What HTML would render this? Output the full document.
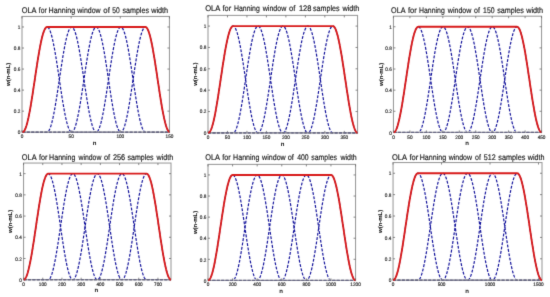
<!DOCTYPE html>
<html><head><meta charset="utf-8"><style>
html,body{margin:0;padding:0;background:#fff;}
svg{display:block;}
text{font-family:"Liberation Sans",Arial,sans-serif;text-rendering:geometricPrecision;}
.ax{fill:#fff;stroke:#999;stroke-width:1.05;}
.tl{font-size:5.1px;fill:#1a1a1a;stroke:#1a1a1a;stroke-width:0.14;}
.ti{font-size:8.1px;fill:#161616;stroke:#161616;stroke-width:0.16;}
.xl{font-size:6px;fill:#111;font-weight:bold;}
.yl{font-size:5.5px;fill:#111;stroke:#111;stroke-width:0.1;font-weight:bold;}
.tk{stroke:#6a6a6a;stroke-width:0.8;fill:none;}
.bo{stroke:#a6a6ae;stroke-width:1.0;}.bl.bz{stroke:#62627e;stroke-width:0.75;}
.bl{fill:none;stroke:#12129a;stroke-width:1.2;stroke-dasharray:2.9 1.5;}
.rd{fill:none;stroke:#d81a1a;stroke-width:1.85;stroke-linejoin:round;}
</style></head><body>
<svg width="550" height="297" viewBox="0 0 550 297">
<defs><filter id="bf" x="0" y="0" width="1" height="1" filterUnits="objectBoundingBox" color-interpolation-filters="sRGB"><feConvolveMatrix order="3" kernelMatrix="1 8 1 8 64 8 1 8 1" edgeMode="duplicate" preserveAlpha="true"/></filter></defs>
<g filter="url(#bf)"><rect width="550" height="297" fill="#fff"/>
<g><rect x="22" y="16.45" width="147.45" height="115.75" class="ax"/><path d="M22 132.2v-2.0M22 16.45v2.0" class="tk"/><path d="M71.15 132.2v-2.0M71.15 16.45v2.0" class="tk"/><path d="M120.3 132.2v-2.0M120.3 16.45v2.0" class="tk"/><path d="M169.45 132.2v-2.0M169.45 16.45v2.0" class="tk"/><path d="M22 132.2h2.0M169.45 132.2h-2.0" class="tk"/><path d="M22 111.15h2.0M169.45 111.15h-2.0" class="tk"/><path d="M22 90.11h2.0M169.45 90.11h-2.0" class="tk"/><path d="M22 69.06h2.0M169.45 69.06h-2.0" class="tk"/><path d="M22 48.02h2.0M169.45 48.02h-2.0" class="tk"/><path d="M22 26.97h2.0M169.45 26.97h-2.0" class="tk"/><clipPath id="c0a"><rect x="22" y="14.45" width="147.45" height="116.55"/></clipPath><clipPath id="c0b"><rect x="22" y="131" width="147.45" height="3"/></clipPath><clipPath id="c0r"><rect x="22" y="13.45" width="147.45" height="121.75"/></clipPath><line x1="22" y1="132.2" x2="169.45" y2="132.2" class="bo"/><g clip-path="url(#c0b)"><polyline points="22.49,132.2 23.47,131.79 24.46,130.55 25.44,128.51 26.42,125.69 27.41,122.15 28.39,117.94 29.37,113.12 30.36,107.78 31.34,101.99 32.32,95.84 33.3,89.45 34.29,82.89 35.27,76.28 36.25,69.73 37.24,63.33 38.22,57.18 39.2,51.39 40.19,46.05 41.17,41.23 42.15,37.02 43.13,33.48 44.12,30.67 45.1,28.63 46.08,27.39 47.07,26.97 48.05,27.39 49.03,28.63 50.02,30.67 51,33.48 51.98,37.02 52.96,41.23 53.95,46.05 54.93,51.39 55.91,57.18 56.9,63.33 57.88,69.73 58.86,76.28 59.85,82.89 60.83,89.45 61.81,95.84 62.79,101.99 63.78,107.78 64.76,113.12 65.74,117.94 66.73,122.15 67.71,125.69 68.69,128.51 69.68,130.55 70.66,131.79 71.64,132.2 169.94,132.2" class="bl bz"/><polyline points="22.49,132.2 47.07,132.2 48.05,131.79 49.03,130.55 50.02,128.51 51,125.69 51.98,122.15 52.96,117.94 53.95,113.12 54.93,107.78 55.91,101.99 56.9,95.84 57.88,89.45 58.86,82.89 59.85,76.28 60.83,69.73 61.81,63.33 62.79,57.18 63.78,51.39 64.76,46.05 65.74,41.23 66.73,37.02 67.71,33.48 68.69,30.67 69.68,28.63 70.66,27.39 71.64,26.97 72.62,27.39 73.61,28.63 74.59,30.67 75.57,33.48 76.56,37.02 77.54,41.23 78.52,46.05 79.51,51.39 80.49,57.18 81.47,63.33 82.45,69.73 83.44,76.28 84.42,82.89 85.4,89.45 86.39,95.84 87.37,101.99 88.35,107.78 89.34,113.12 90.32,117.94 91.3,122.15 92.28,125.69 93.27,128.51 94.25,130.55 95.23,131.79 96.22,132.2 169.94,132.2" class="bl bz"/><polyline points="22.49,132.2 71.64,132.2 72.62,131.79 73.61,130.55 74.59,128.51 75.57,125.69 76.56,122.15 77.54,117.94 78.52,113.12 79.51,107.78 80.49,101.99 81.47,95.84 82.45,89.45 83.44,82.89 84.42,76.28 85.4,69.73 86.39,63.33 87.37,57.18 88.35,51.39 89.34,46.05 90.32,41.23 91.3,37.02 92.28,33.48 93.27,30.67 94.25,28.63 95.23,27.39 96.22,26.97 97.2,27.39 98.18,28.63 99.17,30.67 100.15,33.48 101.13,37.02 102.11,41.23 103.1,46.05 104.08,51.39 105.06,57.18 106.05,63.33 107.03,69.73 108.01,76.28 109,82.89 109.98,89.45 110.96,95.84 111.94,101.99 112.93,107.78 113.91,113.12 114.89,117.94 115.88,122.15 116.86,125.69 117.84,128.51 118.83,130.55 119.81,131.79 120.79,132.2 169.94,132.2" class="bl bz"/><polyline points="22.49,132.2 96.22,132.2 97.2,131.79 98.18,130.55 99.17,128.51 100.15,125.69 101.13,122.15 102.11,117.94 103.1,113.12 104.08,107.78 105.06,101.99 106.05,95.84 107.03,89.45 108.01,82.89 109,76.28 109.98,69.73 110.96,63.33 111.94,57.18 112.93,51.39 113.91,46.05 114.89,41.23 115.88,37.02 116.86,33.48 117.84,30.67 118.83,28.63 119.81,27.39 120.79,26.97 121.77,27.39 122.76,28.63 123.74,30.67 124.72,33.48 125.71,37.02 126.69,41.23 127.67,46.05 128.66,51.39 129.64,57.18 130.62,63.33 131.6,69.73 132.59,76.28 133.57,82.89 134.55,89.45 135.54,95.84 136.52,101.99 137.5,107.78 138.49,113.12 139.47,117.94 140.45,122.15 141.43,125.69 142.42,128.51 143.4,130.55 144.38,131.79 145.37,132.2 169.94,132.2" class="bl bz"/><polyline points="22.49,132.2 120.79,132.2 121.77,131.79 122.76,130.55 123.74,128.51 124.72,125.69 125.71,122.15 126.69,117.94 127.67,113.12 128.66,107.78 129.64,101.99 130.62,95.84 131.6,89.45 132.59,82.89 133.57,76.28 134.55,69.73 135.54,63.33 136.52,57.18 137.5,51.39 138.49,46.05 139.47,41.23 140.45,37.02 141.43,33.48 142.42,30.67 143.4,28.63 144.38,27.39 145.37,26.97 146.35,27.39 147.33,28.63 148.32,30.67 149.3,33.48 150.28,37.02 151.26,41.23 152.25,46.05 153.23,51.39 154.21,57.18 155.2,63.33 156.18,69.73 157.16,76.28 158.15,82.89 159.13,89.45 160.11,95.84 161.09,101.99 162.08,107.78 163.06,113.12 164.04,117.94 165.03,122.15 166.01,125.69 166.99,128.51 167.98,130.55 168.96,131.79 169.94,132.2" class="bl bz"/></g><g clip-path="url(#c0a)"><polyline points="22.49,132.2 23.47,131.79 24.46,130.55 25.44,128.51 26.42,125.69 27.41,122.15 28.39,117.94 29.37,113.12 30.36,107.78 31.34,101.99 32.32,95.84 33.3,89.45 34.29,82.89 35.27,76.28 36.25,69.73 37.24,63.33 38.22,57.18 39.2,51.39 40.19,46.05 41.17,41.23 42.15,37.02 43.13,33.48 44.12,30.67 45.1,28.63 46.08,27.39 47.07,26.97 48.05,27.39 49.03,28.63 50.02,30.67 51,33.48 51.98,37.02 52.96,41.23 53.95,46.05 54.93,51.39 55.91,57.18 56.9,63.33 57.88,69.73 58.86,76.28 59.85,82.89 60.83,89.45 61.81,95.84 62.79,101.99 63.78,107.78 64.76,113.12 65.74,117.94 66.73,122.15 67.71,125.69 68.69,128.51 69.68,130.55 70.66,131.79 71.64,132.2 169.94,132.2" class="bl"/><polyline points="22.49,132.2 47.07,132.2 48.05,131.79 49.03,130.55 50.02,128.51 51,125.69 51.98,122.15 52.96,117.94 53.95,113.12 54.93,107.78 55.91,101.99 56.9,95.84 57.88,89.45 58.86,82.89 59.85,76.28 60.83,69.73 61.81,63.33 62.79,57.18 63.78,51.39 64.76,46.05 65.74,41.23 66.73,37.02 67.71,33.48 68.69,30.67 69.68,28.63 70.66,27.39 71.64,26.97 72.62,27.39 73.61,28.63 74.59,30.67 75.57,33.48 76.56,37.02 77.54,41.23 78.52,46.05 79.51,51.39 80.49,57.18 81.47,63.33 82.45,69.73 83.44,76.28 84.42,82.89 85.4,89.45 86.39,95.84 87.37,101.99 88.35,107.78 89.34,113.12 90.32,117.94 91.3,122.15 92.28,125.69 93.27,128.51 94.25,130.55 95.23,131.79 96.22,132.2 169.94,132.2" class="bl"/><polyline points="22.49,132.2 71.64,132.2 72.62,131.79 73.61,130.55 74.59,128.51 75.57,125.69 76.56,122.15 77.54,117.94 78.52,113.12 79.51,107.78 80.49,101.99 81.47,95.84 82.45,89.45 83.44,82.89 84.42,76.28 85.4,69.73 86.39,63.33 87.37,57.18 88.35,51.39 89.34,46.05 90.32,41.23 91.3,37.02 92.28,33.48 93.27,30.67 94.25,28.63 95.23,27.39 96.22,26.97 97.2,27.39 98.18,28.63 99.17,30.67 100.15,33.48 101.13,37.02 102.11,41.23 103.1,46.05 104.08,51.39 105.06,57.18 106.05,63.33 107.03,69.73 108.01,76.28 109,82.89 109.98,89.45 110.96,95.84 111.94,101.99 112.93,107.78 113.91,113.12 114.89,117.94 115.88,122.15 116.86,125.69 117.84,128.51 118.83,130.55 119.81,131.79 120.79,132.2 169.94,132.2" class="bl"/><polyline points="22.49,132.2 96.22,132.2 97.2,131.79 98.18,130.55 99.17,128.51 100.15,125.69 101.13,122.15 102.11,117.94 103.1,113.12 104.08,107.78 105.06,101.99 106.05,95.84 107.03,89.45 108.01,82.89 109,76.28 109.98,69.73 110.96,63.33 111.94,57.18 112.93,51.39 113.91,46.05 114.89,41.23 115.88,37.02 116.86,33.48 117.84,30.67 118.83,28.63 119.81,27.39 120.79,26.97 121.77,27.39 122.76,28.63 123.74,30.67 124.72,33.48 125.71,37.02 126.69,41.23 127.67,46.05 128.66,51.39 129.64,57.18 130.62,63.33 131.6,69.73 132.59,76.28 133.57,82.89 134.55,89.45 135.54,95.84 136.52,101.99 137.5,107.78 138.49,113.12 139.47,117.94 140.45,122.15 141.43,125.69 142.42,128.51 143.4,130.55 144.38,131.79 145.37,132.2 169.94,132.2" class="bl"/><polyline points="22.49,132.2 120.79,132.2 121.77,131.79 122.76,130.55 123.74,128.51 124.72,125.69 125.71,122.15 126.69,117.94 127.67,113.12 128.66,107.78 129.64,101.99 130.62,95.84 131.6,89.45 132.59,82.89 133.57,76.28 134.55,69.73 135.54,63.33 136.52,57.18 137.5,51.39 138.49,46.05 139.47,41.23 140.45,37.02 141.43,33.48 142.42,30.67 143.4,28.63 144.38,27.39 145.37,26.97 146.35,27.39 147.33,28.63 148.32,30.67 149.3,33.48 150.28,37.02 151.26,41.23 152.25,46.05 153.23,51.39 154.21,57.18 155.2,63.33 156.18,69.73 157.16,76.28 158.15,82.89 159.13,89.45 160.11,95.84 161.09,101.99 162.08,107.78 163.06,113.12 164.04,117.94 165.03,122.15 166.01,125.69 166.99,128.51 167.98,130.55 168.96,131.79 169.94,132.2" class="bl"/></g><polyline points="22.49,132.2 23.47,131.79 24.46,130.55 25.44,128.51 26.42,125.69 27.41,122.15 28.39,117.94 29.37,113.12 30.36,107.78 31.34,101.99 32.32,95.84 33.3,89.45 34.29,82.89 35.27,76.28 36.25,69.73 37.24,63.33 38.22,57.18 39.2,51.39 40.19,46.05 41.17,41.23 42.15,37.02 43.13,33.48 44.12,30.67 45.1,28.63 46.08,27.39 47.07,26.97 48.05,26.97 49.03,26.97 50.02,26.97 51,26.97 51.98,26.97 52.96,26.97 53.95,26.97 54.93,26.97 55.91,26.97 56.9,26.97 57.88,26.97 58.86,26.97 59.85,26.97 60.83,26.97 61.81,26.97 62.79,26.97 63.78,26.97 64.76,26.97 65.74,26.97 66.73,26.97 67.71,26.97 68.69,26.97 69.68,26.97 70.66,26.97 71.64,26.97 72.62,26.97 73.61,26.97 74.59,26.97 75.57,26.97 76.56,26.97 77.54,26.97 78.52,26.97 79.51,26.97 80.49,26.97 81.47,26.97 82.45,26.97 83.44,26.97 84.42,26.97 85.4,26.97 86.39,26.97 87.37,26.97 88.35,26.97 89.34,26.97 90.32,26.97 91.3,26.97 92.28,26.97 93.27,26.97 94.25,26.97 95.23,26.97 96.22,26.97 97.2,26.97 98.18,26.97 99.17,26.97 100.15,26.97 101.13,26.97 102.11,26.97 103.1,26.97 104.08,26.97 105.06,26.97 106.05,26.97 107.03,26.97 108.01,26.97 109,26.97 109.98,26.97 110.96,26.97 111.94,26.97 112.93,26.97 113.91,26.97 114.89,26.97 115.88,26.97 116.86,26.97 117.84,26.97 118.83,26.97 119.81,26.97 120.79,26.97 121.77,26.97 122.76,26.97 123.74,26.97 124.72,26.97 125.71,26.97 126.69,26.97 127.67,26.97 128.66,26.97 129.64,26.97 130.62,26.97 131.6,26.97 132.59,26.97 133.57,26.97 134.55,26.97 135.54,26.97 136.52,26.97 137.5,26.97 138.49,26.97 139.47,26.97 140.45,26.97 141.43,26.97 142.42,26.97 143.4,26.97 144.38,26.97 145.37,26.97 146.35,27.39 147.33,28.63 148.32,30.67 149.3,33.48 150.28,37.02 151.26,41.23 152.25,46.05 153.23,51.39 154.21,57.18 155.2,63.33 156.18,69.73 157.16,76.28 158.15,82.89 159.13,89.45 160.11,95.84 161.09,101.99 162.08,107.78 163.06,113.12 164.04,117.94 165.03,122.15 166.01,125.69 166.99,128.51 167.98,130.55 168.96,131.79 169.94,132.2" class="rd" clip-path="url(#c0r)"/></g><g><rect x="208" y="15.4" width="149.55" height="117.5" class="ax"/><path d="M208 132.9v-2.0M208 15.4v2.0" class="tk"/><path d="M227.47 132.9v-2.0M227.47 15.4v2.0" class="tk"/><path d="M246.95 132.9v-2.0M246.95 15.4v2.0" class="tk"/><path d="M266.42 132.9v-2.0M266.42 15.4v2.0" class="tk"/><path d="M285.89 132.9v-2.0M285.89 15.4v2.0" class="tk"/><path d="M305.36 132.9v-2.0M305.36 15.4v2.0" class="tk"/><path d="M324.84 132.9v-2.0M324.84 15.4v2.0" class="tk"/><path d="M344.31 132.9v-2.0M344.31 15.4v2.0" class="tk"/><path d="M208 132.9h2.0M357.55 132.9h-2.0" class="tk"/><path d="M208 111.54h2.0M357.55 111.54h-2.0" class="tk"/><path d="M208 90.17h2.0M357.55 90.17h-2.0" class="tk"/><path d="M208 68.81h2.0M357.55 68.81h-2.0" class="tk"/><path d="M208 47.45h2.0M357.55 47.45h-2.0" class="tk"/><path d="M208 26.08h2.0M357.55 26.08h-2.0" class="tk"/><clipPath id="c1a"><rect x="208" y="13.4" width="149.55" height="118.6"/></clipPath><clipPath id="c1b"><rect x="208" y="132" width="149.55" height="3"/></clipPath><clipPath id="c1r"><rect x="208" y="12.4" width="149.55" height="123.5"/></clipPath><line x1="208" y1="132.9" x2="357.55" y2="132.9" class="bo"/><g clip-path="url(#c1b)"><polyline points="208.19,132.9 208.58,132.84 208.97,132.64 209.36,132.32 209.75,131.87 210.14,131.3 210.53,130.6 210.92,129.78 211.31,128.83 211.7,127.77 212.09,126.59 212.48,125.3 212.87,123.9 213.26,122.39 213.65,120.78 214.04,119.06 214.43,117.26 214.82,115.36 215.2,113.37 215.59,111.31 215.98,109.16 216.37,106.95 216.76,104.67 217.15,102.33 217.54,99.93 217.93,97.48 218.32,94.99 218.71,92.47 219.1,89.91 219.49,87.33 219.88,84.73 220.27,82.11 220.66,79.49 221.05,76.87 221.44,74.26 221.83,71.65 222.22,69.07 222.6,66.51 222.99,63.99 223.38,61.5 223.77,59.05 224.16,56.66 224.55,54.31 224.94,52.03 225.33,49.82 225.72,47.68 226.11,45.61 226.5,43.62 226.89,41.72 227.28,39.92 227.67,38.21 228.06,36.59 228.45,35.08 228.84,33.68 229.23,32.39 229.61,31.21 230,30.15 230.39,29.2 230.78,28.38 231.17,27.68 231.56,27.11 231.95,26.66 232.34,26.34 232.73,26.15 233.12,26.08 233.51,26.15 233.9,26.34 234.29,26.66 234.68,27.11 235.07,27.68 235.46,28.38 235.85,29.2 236.24,30.15 236.62,31.21 237.01,32.39 237.4,33.68 237.79,35.08 238.18,36.59 238.57,38.21 238.96,39.92 239.35,41.72 239.74,43.62 240.13,45.61 240.52,47.68 240.91,49.82 241.3,52.03 241.69,54.31 242.08,56.66 242.47,59.05 242.86,61.5 243.25,63.99 243.63,66.51 244.02,69.07 244.41,71.65 244.8,74.26 245.19,76.87 245.58,79.49 245.97,82.11 246.36,84.73 246.75,87.33 247.14,89.91 247.53,92.47 247.92,94.99 248.31,97.48 248.7,99.93 249.09,102.33 249.48,104.67 249.87,106.95 250.26,109.16 250.65,111.31 251.03,113.37 251.42,115.36 251.81,117.26 252.2,119.06 252.59,120.78 252.98,122.39 253.37,123.9 253.76,125.3 254.15,126.59 254.54,127.77 254.93,128.83 255.32,129.78 255.71,130.6 256.1,131.3 256.49,131.87 256.88,132.32 257.27,132.64 257.66,132.84 258.04,132.9 357.74,132.9" class="bl bz"/><polyline points="208.19,132.9 233.12,132.9 233.51,132.84 233.9,132.64 234.29,132.32 234.68,131.87 235.07,131.3 235.46,130.6 235.85,129.78 236.24,128.83 236.62,127.77 237.01,126.59 237.4,125.3 237.79,123.9 238.18,122.39 238.57,120.78 238.96,119.06 239.35,117.26 239.74,115.36 240.13,113.37 240.52,111.31 240.91,109.16 241.3,106.95 241.69,104.67 242.08,102.33 242.47,99.93 242.86,97.48 243.25,94.99 243.63,92.47 244.02,89.91 244.41,87.33 244.8,84.73 245.19,82.11 245.58,79.49 245.97,76.87 246.36,74.26 246.75,71.65 247.14,69.07 247.53,66.51 247.92,63.99 248.31,61.5 248.7,59.05 249.09,56.66 249.48,54.31 249.87,52.03 250.26,49.82 250.65,47.68 251.03,45.61 251.42,43.62 251.81,41.72 252.2,39.92 252.59,38.21 252.98,36.59 253.37,35.08 253.76,33.68 254.15,32.39 254.54,31.21 254.93,30.15 255.32,29.2 255.71,28.38 256.1,27.68 256.49,27.11 256.88,26.66 257.27,26.34 257.66,26.15 258.04,26.08 258.43,26.15 258.82,26.34 259.21,26.66 259.6,27.11 259.99,27.68 260.38,28.38 260.77,29.2 261.16,30.15 261.55,31.21 261.94,32.39 262.33,33.68 262.72,35.08 263.11,36.59 263.5,38.21 263.89,39.92 264.28,41.72 264.67,43.62 265.05,45.61 265.44,47.68 265.83,49.82 266.22,52.03 266.61,54.31 267,56.66 267.39,59.05 267.78,61.5 268.17,63.99 268.56,66.51 268.95,69.07 269.34,71.65 269.73,74.26 270.12,76.87 270.51,79.49 270.9,82.11 271.29,84.73 271.68,87.33 272.07,89.91 272.45,92.47 272.84,94.99 273.23,97.48 273.62,99.93 274.01,102.33 274.4,104.67 274.79,106.95 275.18,109.16 275.57,111.31 275.96,113.37 276.35,115.36 276.74,117.26 277.13,119.06 277.52,120.78 277.91,122.39 278.3,123.9 278.69,125.3 279.08,126.59 279.46,127.77 279.85,128.83 280.24,129.78 280.63,130.6 281.02,131.3 281.41,131.87 281.8,132.32 282.19,132.64 282.58,132.84 282.97,132.9 357.74,132.9" class="bl bz"/><polyline points="208.19,132.9 258.04,132.9 258.43,132.84 258.82,132.64 259.21,132.32 259.6,131.87 259.99,131.3 260.38,130.6 260.77,129.78 261.16,128.83 261.55,127.77 261.94,126.59 262.33,125.3 262.72,123.9 263.11,122.39 263.5,120.78 263.89,119.06 264.28,117.26 264.67,115.36 265.05,113.37 265.44,111.31 265.83,109.16 266.22,106.95 266.61,104.67 267,102.33 267.39,99.93 267.78,97.48 268.17,94.99 268.56,92.47 268.95,89.91 269.34,87.33 269.73,84.73 270.12,82.11 270.51,79.49 270.9,76.87 271.29,74.26 271.68,71.65 272.07,69.07 272.45,66.51 272.84,63.99 273.23,61.5 273.62,59.05 274.01,56.66 274.4,54.31 274.79,52.03 275.18,49.82 275.57,47.68 275.96,45.61 276.35,43.62 276.74,41.72 277.13,39.92 277.52,38.21 277.91,36.59 278.3,35.08 278.69,33.68 279.08,32.39 279.46,31.21 279.85,30.15 280.24,29.2 280.63,28.38 281.02,27.68 281.41,27.11 281.8,26.66 282.19,26.34 282.58,26.15 282.97,26.08 283.36,26.15 283.75,26.34 284.14,26.66 284.53,27.11 284.92,27.68 285.31,28.38 285.7,29.2 286.09,30.15 286.47,31.21 286.86,32.39 287.25,33.68 287.64,35.08 288.03,36.59 288.42,38.21 288.81,39.92 289.2,41.72 289.59,43.62 289.98,45.61 290.37,47.68 290.76,49.82 291.15,52.03 291.54,54.31 291.93,56.66 292.32,59.05 292.71,61.5 293.1,63.99 293.48,66.51 293.87,69.07 294.26,71.65 294.65,74.26 295.04,76.87 295.43,79.49 295.82,82.11 296.21,84.73 296.6,87.33 296.99,89.91 297.38,92.47 297.77,94.99 298.16,97.48 298.55,99.93 298.94,102.33 299.33,104.67 299.72,106.95 300.11,109.16 300.5,111.31 300.88,113.37 301.27,115.36 301.66,117.26 302.05,119.06 302.44,120.78 302.83,122.39 303.22,123.9 303.61,125.3 304,126.59 304.39,127.77 304.78,128.83 305.17,129.78 305.56,130.6 305.95,131.3 306.34,131.87 306.73,132.32 307.12,132.64 307.51,132.84 307.89,132.9 357.74,132.9" class="bl bz"/><polyline points="208.19,132.9 282.97,132.9 283.36,132.84 283.75,132.64 284.14,132.32 284.53,131.87 284.92,131.3 285.31,130.6 285.7,129.78 286.09,128.83 286.47,127.77 286.86,126.59 287.25,125.3 287.64,123.9 288.03,122.39 288.42,120.78 288.81,119.06 289.2,117.26 289.59,115.36 289.98,113.37 290.37,111.31 290.76,109.16 291.15,106.95 291.54,104.67 291.93,102.33 292.32,99.93 292.71,97.48 293.1,94.99 293.48,92.47 293.87,89.91 294.26,87.33 294.65,84.73 295.04,82.11 295.43,79.49 295.82,76.87 296.21,74.26 296.6,71.65 296.99,69.07 297.38,66.51 297.77,63.99 298.16,61.5 298.55,59.05 298.94,56.66 299.33,54.31 299.72,52.03 300.11,49.82 300.5,47.68 300.88,45.61 301.27,43.62 301.66,41.72 302.05,39.92 302.44,38.21 302.83,36.59 303.22,35.08 303.61,33.68 304,32.39 304.39,31.21 304.78,30.15 305.17,29.2 305.56,28.38 305.95,27.68 306.34,27.11 306.73,26.66 307.12,26.34 307.51,26.15 307.89,26.08 308.28,26.15 308.67,26.34 309.06,26.66 309.45,27.11 309.84,27.68 310.23,28.38 310.62,29.2 311.01,30.15 311.4,31.21 311.79,32.39 312.18,33.68 312.57,35.08 312.96,36.59 313.35,38.21 313.74,39.92 314.13,41.72 314.52,43.62 314.9,45.61 315.29,47.68 315.68,49.82 316.07,52.03 316.46,54.31 316.85,56.66 317.24,59.05 317.63,61.5 318.02,63.99 318.41,66.51 318.8,69.07 319.19,71.65 319.58,74.26 319.97,76.87 320.36,79.49 320.75,82.11 321.14,84.73 321.53,87.33 321.92,89.91 322.3,92.47 322.69,94.99 323.08,97.48 323.47,99.93 323.86,102.33 324.25,104.67 324.64,106.95 325.03,109.16 325.42,111.31 325.81,113.37 326.2,115.36 326.59,117.26 326.98,119.06 327.37,120.78 327.76,122.39 328.15,123.9 328.54,125.3 328.93,126.59 329.31,127.77 329.7,128.83 330.09,129.78 330.48,130.6 330.87,131.3 331.26,131.87 331.65,132.32 332.04,132.64 332.43,132.84 332.82,132.9 357.74,132.9" class="bl bz"/><polyline points="208.19,132.9 307.89,132.9 308.28,132.84 308.67,132.64 309.06,132.32 309.45,131.87 309.84,131.3 310.23,130.6 310.62,129.78 311.01,128.83 311.4,127.77 311.79,126.59 312.18,125.3 312.57,123.9 312.96,122.39 313.35,120.78 313.74,119.06 314.13,117.26 314.52,115.36 314.9,113.37 315.29,111.31 315.68,109.16 316.07,106.95 316.46,104.67 316.85,102.33 317.24,99.93 317.63,97.48 318.02,94.99 318.41,92.47 318.8,89.91 319.19,87.33 319.58,84.73 319.97,82.11 320.36,79.49 320.75,76.87 321.14,74.26 321.53,71.65 321.92,69.07 322.3,66.51 322.69,63.99 323.08,61.5 323.47,59.05 323.86,56.66 324.25,54.31 324.64,52.03 325.03,49.82 325.42,47.68 325.81,45.61 326.2,43.62 326.59,41.72 326.98,39.92 327.37,38.21 327.76,36.59 328.15,35.08 328.54,33.68 328.93,32.39 329.31,31.21 329.7,30.15 330.09,29.2 330.48,28.38 330.87,27.68 331.26,27.11 331.65,26.66 332.04,26.34 332.43,26.15 332.82,26.08 333.21,26.15 333.6,26.34 333.99,26.66 334.38,27.11 334.77,27.68 335.16,28.38 335.55,29.2 335.94,30.15 336.32,31.21 336.71,32.39 337.1,33.68 337.49,35.08 337.88,36.59 338.27,38.21 338.66,39.92 339.05,41.72 339.44,43.62 339.83,45.61 340.22,47.68 340.61,49.82 341,52.03 341.39,54.31 341.78,56.66 342.17,59.05 342.56,61.5 342.95,63.99 343.33,66.51 343.72,69.07 344.11,71.65 344.5,74.26 344.89,76.87 345.28,79.49 345.67,82.11 346.06,84.73 346.45,87.33 346.84,89.91 347.23,92.47 347.62,94.99 348.01,97.48 348.4,99.93 348.79,102.33 349.18,104.67 349.57,106.95 349.96,109.16 350.35,111.31 350.73,113.37 351.12,115.36 351.51,117.26 351.9,119.06 352.29,120.78 352.68,122.39 353.07,123.9 353.46,125.3 353.85,126.59 354.24,127.77 354.63,128.83 355.02,129.78 355.41,130.6 355.8,131.3 356.19,131.87 356.58,132.32 356.97,132.64 357.36,132.84 357.74,132.9" class="bl bz"/></g><g clip-path="url(#c1a)"><polyline points="208.19,132.9 208.58,132.84 208.97,132.64 209.36,132.32 209.75,131.87 210.14,131.3 210.53,130.6 210.92,129.78 211.31,128.83 211.7,127.77 212.09,126.59 212.48,125.3 212.87,123.9 213.26,122.39 213.65,120.78 214.04,119.06 214.43,117.26 214.82,115.36 215.2,113.37 215.59,111.31 215.98,109.16 216.37,106.95 216.76,104.67 217.15,102.33 217.54,99.93 217.93,97.48 218.32,94.99 218.71,92.47 219.1,89.91 219.49,87.33 219.88,84.73 220.27,82.11 220.66,79.49 221.05,76.87 221.44,74.26 221.83,71.65 222.22,69.07 222.6,66.51 222.99,63.99 223.38,61.5 223.77,59.05 224.16,56.66 224.55,54.31 224.94,52.03 225.33,49.82 225.72,47.68 226.11,45.61 226.5,43.62 226.89,41.72 227.28,39.92 227.67,38.21 228.06,36.59 228.45,35.08 228.84,33.68 229.23,32.39 229.61,31.21 230,30.15 230.39,29.2 230.78,28.38 231.17,27.68 231.56,27.11 231.95,26.66 232.34,26.34 232.73,26.15 233.12,26.08 233.51,26.15 233.9,26.34 234.29,26.66 234.68,27.11 235.07,27.68 235.46,28.38 235.85,29.2 236.24,30.15 236.62,31.21 237.01,32.39 237.4,33.68 237.79,35.08 238.18,36.59 238.57,38.21 238.96,39.92 239.35,41.72 239.74,43.62 240.13,45.61 240.52,47.68 240.91,49.82 241.3,52.03 241.69,54.31 242.08,56.66 242.47,59.05 242.86,61.5 243.25,63.99 243.63,66.51 244.02,69.07 244.41,71.65 244.8,74.26 245.19,76.87 245.58,79.49 245.97,82.11 246.36,84.73 246.75,87.33 247.14,89.91 247.53,92.47 247.92,94.99 248.31,97.48 248.7,99.93 249.09,102.33 249.48,104.67 249.87,106.95 250.26,109.16 250.65,111.31 251.03,113.37 251.42,115.36 251.81,117.26 252.2,119.06 252.59,120.78 252.98,122.39 253.37,123.9 253.76,125.3 254.15,126.59 254.54,127.77 254.93,128.83 255.32,129.78 255.71,130.6 256.1,131.3 256.49,131.87 256.88,132.32 257.27,132.64 257.66,132.84 258.04,132.9 357.74,132.9" class="bl"/><polyline points="208.19,132.9 233.12,132.9 233.51,132.84 233.9,132.64 234.29,132.32 234.68,131.87 235.07,131.3 235.46,130.6 235.85,129.78 236.24,128.83 236.62,127.77 237.01,126.59 237.4,125.3 237.79,123.9 238.18,122.39 238.57,120.78 238.96,119.06 239.35,117.26 239.74,115.36 240.13,113.37 240.52,111.31 240.91,109.16 241.3,106.95 241.69,104.67 242.08,102.33 242.47,99.93 242.86,97.48 243.25,94.99 243.63,92.47 244.02,89.91 244.41,87.33 244.8,84.73 245.19,82.11 245.58,79.49 245.97,76.87 246.36,74.26 246.75,71.65 247.14,69.07 247.53,66.51 247.92,63.99 248.31,61.5 248.7,59.05 249.09,56.66 249.48,54.31 249.87,52.03 250.26,49.82 250.65,47.68 251.03,45.61 251.42,43.62 251.81,41.72 252.2,39.92 252.59,38.21 252.98,36.59 253.37,35.08 253.76,33.68 254.15,32.39 254.54,31.21 254.93,30.15 255.32,29.2 255.71,28.38 256.1,27.68 256.49,27.11 256.88,26.66 257.27,26.34 257.66,26.15 258.04,26.08 258.43,26.15 258.82,26.34 259.21,26.66 259.6,27.11 259.99,27.68 260.38,28.38 260.77,29.2 261.16,30.15 261.55,31.21 261.94,32.39 262.33,33.68 262.72,35.08 263.11,36.59 263.5,38.21 263.89,39.92 264.28,41.72 264.67,43.62 265.05,45.61 265.44,47.68 265.83,49.82 266.22,52.03 266.61,54.31 267,56.66 267.39,59.05 267.78,61.5 268.17,63.99 268.56,66.51 268.95,69.07 269.34,71.65 269.73,74.26 270.12,76.87 270.51,79.49 270.9,82.11 271.29,84.73 271.68,87.33 272.07,89.91 272.45,92.47 272.84,94.99 273.23,97.48 273.62,99.93 274.01,102.33 274.4,104.67 274.79,106.95 275.18,109.16 275.57,111.31 275.96,113.37 276.35,115.36 276.74,117.26 277.13,119.06 277.52,120.78 277.91,122.39 278.3,123.9 278.69,125.3 279.08,126.59 279.46,127.77 279.85,128.83 280.24,129.78 280.63,130.6 281.02,131.3 281.41,131.87 281.8,132.32 282.19,132.64 282.58,132.84 282.97,132.9 357.74,132.9" class="bl"/><polyline points="208.19,132.9 258.04,132.9 258.43,132.84 258.82,132.64 259.21,132.32 259.6,131.87 259.99,131.3 260.38,130.6 260.77,129.78 261.16,128.83 261.55,127.77 261.94,126.59 262.33,125.3 262.72,123.9 263.11,122.39 263.5,120.78 263.89,119.06 264.28,117.26 264.67,115.36 265.05,113.37 265.44,111.31 265.83,109.16 266.22,106.95 266.61,104.67 267,102.33 267.39,99.93 267.78,97.48 268.17,94.99 268.56,92.47 268.95,89.91 269.34,87.33 269.73,84.73 270.12,82.11 270.51,79.49 270.9,76.87 271.29,74.26 271.68,71.65 272.07,69.07 272.45,66.51 272.84,63.99 273.23,61.5 273.62,59.05 274.01,56.66 274.4,54.31 274.79,52.03 275.18,49.82 275.57,47.68 275.96,45.61 276.35,43.62 276.74,41.72 277.13,39.92 277.52,38.21 277.91,36.59 278.3,35.08 278.69,33.68 279.08,32.39 279.46,31.21 279.85,30.15 280.24,29.2 280.63,28.38 281.02,27.68 281.41,27.11 281.8,26.66 282.19,26.34 282.58,26.15 282.97,26.08 283.36,26.15 283.75,26.34 284.14,26.66 284.53,27.11 284.92,27.68 285.31,28.38 285.7,29.2 286.09,30.15 286.47,31.21 286.86,32.39 287.25,33.68 287.64,35.08 288.03,36.59 288.42,38.21 288.81,39.92 289.2,41.72 289.59,43.62 289.98,45.61 290.37,47.68 290.76,49.82 291.15,52.03 291.54,54.31 291.93,56.66 292.32,59.05 292.71,61.5 293.1,63.99 293.48,66.51 293.87,69.07 294.26,71.65 294.65,74.26 295.04,76.87 295.43,79.49 295.82,82.11 296.21,84.73 296.6,87.33 296.99,89.91 297.38,92.47 297.77,94.99 298.16,97.48 298.55,99.93 298.94,102.33 299.33,104.67 299.72,106.95 300.11,109.16 300.5,111.31 300.88,113.37 301.27,115.36 301.66,117.26 302.05,119.06 302.44,120.78 302.83,122.39 303.22,123.9 303.61,125.3 304,126.59 304.39,127.77 304.78,128.83 305.17,129.78 305.56,130.6 305.95,131.3 306.34,131.87 306.73,132.32 307.12,132.64 307.51,132.84 307.89,132.9 357.74,132.9" class="bl"/><polyline points="208.19,132.9 282.97,132.9 283.36,132.84 283.75,132.64 284.14,132.32 284.53,131.87 284.92,131.3 285.31,130.6 285.7,129.78 286.09,128.83 286.47,127.77 286.86,126.59 287.25,125.3 287.64,123.9 288.03,122.39 288.42,120.78 288.81,119.06 289.2,117.26 289.59,115.36 289.98,113.37 290.37,111.31 290.76,109.16 291.15,106.95 291.54,104.67 291.93,102.33 292.32,99.93 292.71,97.48 293.1,94.99 293.48,92.47 293.87,89.91 294.26,87.33 294.65,84.73 295.04,82.11 295.43,79.49 295.82,76.87 296.21,74.26 296.6,71.65 296.99,69.07 297.38,66.51 297.77,63.99 298.16,61.5 298.55,59.05 298.94,56.66 299.33,54.31 299.72,52.03 300.11,49.82 300.5,47.68 300.88,45.61 301.27,43.62 301.66,41.72 302.05,39.92 302.44,38.21 302.83,36.59 303.22,35.08 303.61,33.68 304,32.39 304.39,31.21 304.78,30.15 305.17,29.2 305.56,28.38 305.95,27.68 306.34,27.11 306.73,26.66 307.12,26.34 307.51,26.15 307.89,26.08 308.28,26.15 308.67,26.34 309.06,26.66 309.45,27.11 309.84,27.68 310.23,28.38 310.62,29.2 311.01,30.15 311.4,31.21 311.79,32.39 312.18,33.68 312.57,35.08 312.96,36.59 313.35,38.21 313.74,39.92 314.13,41.72 314.52,43.62 314.9,45.61 315.29,47.68 315.68,49.82 316.07,52.03 316.46,54.31 316.85,56.66 317.24,59.05 317.63,61.5 318.02,63.99 318.41,66.51 318.8,69.07 319.19,71.65 319.58,74.26 319.97,76.87 320.36,79.49 320.75,82.11 321.14,84.73 321.53,87.33 321.92,89.91 322.3,92.47 322.69,94.99 323.08,97.48 323.47,99.93 323.86,102.33 324.25,104.67 324.64,106.95 325.03,109.16 325.42,111.31 325.81,113.37 326.2,115.36 326.59,117.26 326.98,119.06 327.37,120.78 327.76,122.39 328.15,123.9 328.54,125.3 328.93,126.59 329.31,127.77 329.7,128.83 330.09,129.78 330.48,130.6 330.87,131.3 331.26,131.87 331.65,132.32 332.04,132.64 332.43,132.84 332.82,132.9 357.74,132.9" class="bl"/><polyline points="208.19,132.9 307.89,132.9 308.28,132.84 308.67,132.64 309.06,132.32 309.45,131.87 309.84,131.3 310.23,130.6 310.62,129.78 311.01,128.83 311.4,127.77 311.79,126.59 312.18,125.3 312.57,123.9 312.96,122.39 313.35,120.78 313.74,119.06 314.13,117.26 314.52,115.36 314.9,113.37 315.29,111.31 315.68,109.16 316.07,106.95 316.46,104.67 316.85,102.33 317.24,99.93 317.63,97.48 318.02,94.99 318.41,92.47 318.8,89.91 319.19,87.33 319.58,84.73 319.97,82.11 320.36,79.49 320.75,76.87 321.14,74.26 321.53,71.65 321.92,69.07 322.3,66.51 322.69,63.99 323.08,61.5 323.47,59.05 323.86,56.66 324.25,54.31 324.64,52.03 325.03,49.82 325.42,47.68 325.81,45.61 326.2,43.62 326.59,41.72 326.98,39.92 327.37,38.21 327.76,36.59 328.15,35.08 328.54,33.68 328.93,32.39 329.31,31.21 329.7,30.15 330.09,29.2 330.48,28.38 330.87,27.68 331.26,27.11 331.65,26.66 332.04,26.34 332.43,26.15 332.82,26.08 333.21,26.15 333.6,26.34 333.99,26.66 334.38,27.11 334.77,27.68 335.16,28.38 335.55,29.2 335.94,30.15 336.32,31.21 336.71,32.39 337.1,33.68 337.49,35.08 337.88,36.59 338.27,38.21 338.66,39.92 339.05,41.72 339.44,43.62 339.83,45.61 340.22,47.68 340.61,49.82 341,52.03 341.39,54.31 341.78,56.66 342.17,59.05 342.56,61.5 342.95,63.99 343.33,66.51 343.72,69.07 344.11,71.65 344.5,74.26 344.89,76.87 345.28,79.49 345.67,82.11 346.06,84.73 346.45,87.33 346.84,89.91 347.23,92.47 347.62,94.99 348.01,97.48 348.4,99.93 348.79,102.33 349.18,104.67 349.57,106.95 349.96,109.16 350.35,111.31 350.73,113.37 351.12,115.36 351.51,117.26 351.9,119.06 352.29,120.78 352.68,122.39 353.07,123.9 353.46,125.3 353.85,126.59 354.24,127.77 354.63,128.83 355.02,129.78 355.41,130.6 355.8,131.3 356.19,131.87 356.58,132.32 356.97,132.64 357.36,132.84 357.74,132.9" class="bl"/></g><polyline points="208.19,132.9 208.58,132.84 208.97,132.64 209.36,132.32 209.75,131.87 210.14,131.3 210.53,130.6 210.92,129.78 211.31,128.83 211.7,127.77 212.09,126.59 212.48,125.3 212.87,123.9 213.26,122.39 213.65,120.78 214.04,119.06 214.43,117.26 214.82,115.36 215.2,113.37 215.59,111.31 215.98,109.16 216.37,106.95 216.76,104.67 217.15,102.33 217.54,99.93 217.93,97.48 218.32,94.99 218.71,92.47 219.1,89.91 219.49,87.33 219.88,84.73 220.27,82.11 220.66,79.49 221.05,76.87 221.44,74.26 221.83,71.65 222.22,69.07 222.6,66.51 222.99,63.99 223.38,61.5 223.77,59.05 224.16,56.66 224.55,54.31 224.94,52.03 225.33,49.82 225.72,47.68 226.11,45.61 226.5,43.62 226.89,41.72 227.28,39.92 227.67,38.21 228.06,36.59 228.45,35.08 228.84,33.68 229.23,32.39 229.61,31.21 230,30.15 230.39,29.2 230.78,28.38 231.17,27.68 231.56,27.11 231.95,26.66 232.34,26.34 232.73,26.15 233.12,26.08 233.51,26.08 233.9,26.08 234.29,26.08 234.68,26.08 235.07,26.08 235.46,26.08 235.85,26.08 236.24,26.08 236.62,26.08 237.01,26.08 237.4,26.08 237.79,26.08 238.18,26.08 238.57,26.08 238.96,26.08 239.35,26.08 239.74,26.08 240.13,26.08 240.52,26.08 240.91,26.08 241.3,26.08 241.69,26.08 242.08,26.08 242.47,26.08 242.86,26.08 243.25,26.08 243.63,26.08 244.02,26.08 244.41,26.08 244.8,26.08 245.19,26.08 245.58,26.08 245.97,26.08 246.36,26.08 246.75,26.08 247.14,26.08 247.53,26.08 247.92,26.08 248.31,26.08 248.7,26.08 249.09,26.08 249.48,26.08 249.87,26.08 250.26,26.08 250.65,26.08 251.03,26.08 251.42,26.08 251.81,26.08 252.2,26.08 252.59,26.08 252.98,26.08 253.37,26.08 253.76,26.08 254.15,26.08 254.54,26.08 254.93,26.08 255.32,26.08 255.71,26.08 256.1,26.08 256.49,26.08 256.88,26.08 257.27,26.08 257.66,26.08 258.04,26.08 258.43,26.08 258.82,26.08 259.21,26.08 259.6,26.08 259.99,26.08 260.38,26.08 260.77,26.08 261.16,26.08 261.55,26.08 261.94,26.08 262.33,26.08 262.72,26.08 263.11,26.08 263.5,26.08 263.89,26.08 264.28,26.08 264.67,26.08 265.05,26.08 265.44,26.08 265.83,26.08 266.22,26.08 266.61,26.08 267,26.08 267.39,26.08 267.78,26.08 268.17,26.08 268.56,26.08 268.95,26.08 269.34,26.08 269.73,26.08 270.12,26.08 270.51,26.08 270.9,26.08 271.29,26.08 271.68,26.08 272.07,26.08 272.45,26.08 272.84,26.08 273.23,26.08 273.62,26.08 274.01,26.08 274.4,26.08 274.79,26.08 275.18,26.08 275.57,26.08 275.96,26.08 276.35,26.08 276.74,26.08 277.13,26.08 277.52,26.08 277.91,26.08 278.3,26.08 278.69,26.08 279.08,26.08 279.46,26.08 279.85,26.08 280.24,26.08 280.63,26.08 281.02,26.08 281.41,26.08 281.8,26.08 282.19,26.08 282.58,26.08 282.97,26.08 283.36,26.08 283.75,26.08 284.14,26.08 284.53,26.08 284.92,26.08 285.31,26.08 285.7,26.08 286.09,26.08 286.47,26.08 286.86,26.08 287.25,26.08 287.64,26.08 288.03,26.08 288.42,26.08 288.81,26.08 289.2,26.08 289.59,26.08 289.98,26.08 290.37,26.08 290.76,26.08 291.15,26.08 291.54,26.08 291.93,26.08 292.32,26.08 292.71,26.08 293.1,26.08 293.48,26.08 293.87,26.08 294.26,26.08 294.65,26.08 295.04,26.08 295.43,26.08 295.82,26.08 296.21,26.08 296.6,26.08 296.99,26.08 297.38,26.08 297.77,26.08 298.16,26.08 298.55,26.08 298.94,26.08 299.33,26.08 299.72,26.08 300.11,26.08 300.5,26.08 300.88,26.08 301.27,26.08 301.66,26.08 302.05,26.08 302.44,26.08 302.83,26.08 303.22,26.08 303.61,26.08 304,26.08 304.39,26.08 304.78,26.08 305.17,26.08 305.56,26.08 305.95,26.08 306.34,26.08 306.73,26.08 307.12,26.08 307.51,26.08 307.89,26.08 308.28,26.08 308.67,26.08 309.06,26.08 309.45,26.08 309.84,26.08 310.23,26.08 310.62,26.08 311.01,26.08 311.4,26.08 311.79,26.08 312.18,26.08 312.57,26.08 312.96,26.08 313.35,26.08 313.74,26.08 314.13,26.08 314.52,26.08 314.9,26.08 315.29,26.08 315.68,26.08 316.07,26.08 316.46,26.08 316.85,26.08 317.24,26.08 317.63,26.08 318.02,26.08 318.41,26.08 318.8,26.08 319.19,26.08 319.58,26.08 319.97,26.08 320.36,26.08 320.75,26.08 321.14,26.08 321.53,26.08 321.92,26.08 322.3,26.08 322.69,26.08 323.08,26.08 323.47,26.08 323.86,26.08 324.25,26.08 324.64,26.08 325.03,26.08 325.42,26.08 325.81,26.08 326.2,26.08 326.59,26.08 326.98,26.08 327.37,26.08 327.76,26.08 328.15,26.08 328.54,26.08 328.93,26.08 329.31,26.08 329.7,26.08 330.09,26.08 330.48,26.08 330.87,26.08 331.26,26.08 331.65,26.08 332.04,26.08 332.43,26.08 332.82,26.08 333.21,26.15 333.6,26.34 333.99,26.66 334.38,27.11 334.77,27.68 335.16,28.38 335.55,29.2 335.94,30.15 336.32,31.21 336.71,32.39 337.1,33.68 337.49,35.08 337.88,36.59 338.27,38.21 338.66,39.92 339.05,41.72 339.44,43.62 339.83,45.61 340.22,47.68 340.61,49.82 341,52.03 341.39,54.31 341.78,56.66 342.17,59.05 342.56,61.5 342.95,63.99 343.33,66.51 343.72,69.07 344.11,71.65 344.5,74.26 344.89,76.87 345.28,79.49 345.67,82.11 346.06,84.73 346.45,87.33 346.84,89.91 347.23,92.47 347.62,94.99 348.01,97.48 348.4,99.93 348.79,102.33 349.18,104.67 349.57,106.95 349.96,109.16 350.35,111.31 350.73,113.37 351.12,115.36 351.51,117.26 351.9,119.06 352.29,120.78 352.68,122.39 353.07,123.9 353.46,125.3 353.85,126.59 354.24,127.77 354.63,128.83 355.02,129.78 355.41,130.6 355.8,131.3 356.19,131.87 356.58,132.32 356.97,132.64 357.36,132.84 357.74,132.9" class="rd" clip-path="url(#c1r)"/></g><g><rect x="393.45" y="16.2" width="148.1" height="116.2" class="ax"/><path d="M393.45 132.4v-2.0M393.45 16.2v2.0" class="tk"/><path d="M409.91 132.4v-2.0M409.91 16.2v2.0" class="tk"/><path d="M426.36 132.4v-2.0M426.36 16.2v2.0" class="tk"/><path d="M442.82 132.4v-2.0M442.82 16.2v2.0" class="tk"/><path d="M459.27 132.4v-2.0M459.27 16.2v2.0" class="tk"/><path d="M475.73 132.4v-2.0M475.73 16.2v2.0" class="tk"/><path d="M492.18 132.4v-2.0M492.18 16.2v2.0" class="tk"/><path d="M508.64 132.4v-2.0M508.64 16.2v2.0" class="tk"/><path d="M525.09 132.4v-2.0M525.09 16.2v2.0" class="tk"/><path d="M541.55 132.4v-2.0M541.55 16.2v2.0" class="tk"/><path d="M393.45 132.4h2.0M541.55 132.4h-2.0" class="tk"/><path d="M393.45 111.27h2.0M541.55 111.27h-2.0" class="tk"/><path d="M393.45 90.15h2.0M541.55 90.15h-2.0" class="tk"/><path d="M393.45 69.02h2.0M541.55 69.02h-2.0" class="tk"/><path d="M393.45 47.89h2.0M541.55 47.89h-2.0" class="tk"/><path d="M393.45 26.76h2.0M541.55 26.76h-2.0" class="tk"/><clipPath id="c2a"><rect x="393.45" y="14.2" width="148.1" height="116.8"/></clipPath><clipPath id="c2b"><rect x="393.45" y="131" width="148.1" height="3"/></clipPath><clipPath id="c2r"><rect x="393.45" y="13.2" width="148.1" height="122.2"/></clipPath><line x1="393.45" y1="132.4" x2="541.55" y2="132.4" class="bo"/><g clip-path="url(#c2b)"><polyline points="393.61,132.4 393.94,132.35 394.27,132.21 394.6,131.98 394.93,131.66 395.26,131.25 395.59,130.74 395.92,130.15 396.25,129.46 396.58,128.69 396.91,127.83 397.23,126.89 397.56,125.87 397.89,124.76 398.22,123.58 398.55,122.31 398.88,120.98 399.21,119.56 399.54,118.08 399.87,116.54 400.2,114.92 400.53,113.25 400.85,111.52 401.18,109.73 401.51,107.88 401.84,105.99 402.17,104.05 402.5,102.07 402.83,100.05 403.16,97.99 403.49,95.9 403.82,93.79 404.15,91.64 404.48,89.48 404.8,87.3 405.13,85.1 405.46,82.9 405.79,80.69 406.12,78.48 406.45,76.27 406.78,74.06 407.11,71.87 407.44,69.68 407.77,67.52 408.1,65.38 408.42,63.26 408.75,61.17 409.08,59.11 409.41,57.09 409.74,55.11 410.07,53.17 410.4,51.28 410.73,49.44 411.06,47.65 411.39,45.91 411.72,44.24 412.04,42.63 412.37,41.08 412.7,39.6 413.03,38.19 413.36,36.85 413.69,35.59 414.02,34.4 414.35,33.3 414.68,32.27 415.01,31.33 415.34,30.47 415.66,29.7 415.99,29.02 416.32,28.42 416.65,27.92 416.98,27.5 417.31,27.18 417.64,26.95 417.97,26.81 418.3,26.76 418.63,26.81 418.96,26.95 419.29,27.18 419.61,27.5 419.94,27.92 420.27,28.42 420.6,29.02 420.93,29.7 421.26,30.47 421.59,31.33 421.92,32.27 422.25,33.3 422.58,34.4 422.91,35.59 423.23,36.85 423.56,38.19 423.89,39.6 424.22,41.08 424.55,42.63 424.88,44.24 425.21,45.91 425.54,47.65 425.87,49.44 426.2,51.28 426.53,53.17 426.85,55.11 427.18,57.09 427.51,59.11 427.84,61.17 428.17,63.26 428.5,65.38 428.83,67.52 429.16,69.68 429.49,71.87 429.82,74.06 430.15,76.27 430.47,78.48 430.8,80.69 431.13,82.9 431.46,85.1 431.79,87.3 432.12,89.48 432.45,91.64 432.78,93.79 433.11,95.9 433.44,97.99 433.77,100.05 434.1,102.07 434.42,104.05 434.75,105.99 435.08,107.88 435.41,109.73 435.74,111.52 436.07,113.25 436.4,114.92 436.73,116.54 437.06,118.08 437.39,119.56 437.72,120.98 438.04,122.31 438.37,123.58 438.7,124.76 439.03,125.87 439.36,126.89 439.69,127.83 440.02,128.69 440.35,129.46 440.68,130.15 441.01,130.74 441.34,131.25 441.66,131.66 441.99,131.98 442.32,132.21 442.65,132.35 442.98,132.4 541.71,132.4" class="bl bz"/><polyline points="393.61,132.4 418.3,132.4 418.63,132.35 418.96,132.21 419.29,131.98 419.61,131.66 419.94,131.25 420.27,130.74 420.6,130.15 420.93,129.46 421.26,128.69 421.59,127.83 421.92,126.89 422.25,125.87 422.58,124.76 422.91,123.58 423.23,122.31 423.56,120.98 423.89,119.56 424.22,118.08 424.55,116.54 424.88,114.92 425.21,113.25 425.54,111.52 425.87,109.73 426.2,107.88 426.53,105.99 426.85,104.05 427.18,102.07 427.51,100.05 427.84,97.99 428.17,95.9 428.5,93.79 428.83,91.64 429.16,89.48 429.49,87.3 429.82,85.1 430.15,82.9 430.47,80.69 430.8,78.48 431.13,76.27 431.46,74.06 431.79,71.87 432.12,69.68 432.45,67.52 432.78,65.38 433.11,63.26 433.44,61.17 433.77,59.11 434.1,57.09 434.42,55.11 434.75,53.17 435.08,51.28 435.41,49.44 435.74,47.65 436.07,45.91 436.4,44.24 436.73,42.63 437.06,41.08 437.39,39.6 437.72,38.19 438.04,36.85 438.37,35.59 438.7,34.4 439.03,33.3 439.36,32.27 439.69,31.33 440.02,30.47 440.35,29.7 440.68,29.02 441.01,28.42 441.34,27.92 441.66,27.5 441.99,27.18 442.32,26.95 442.65,26.81 442.98,26.76 443.31,26.81 443.64,26.95 443.97,27.18 444.3,27.5 444.63,27.92 444.96,28.42 445.28,29.02 445.61,29.7 445.94,30.47 446.27,31.33 446.6,32.27 446.93,33.3 447.26,34.4 447.59,35.59 447.92,36.85 448.25,38.19 448.58,39.6 448.91,41.08 449.23,42.63 449.56,44.24 449.89,45.91 450.22,47.65 450.55,49.44 450.88,51.28 451.21,53.17 451.54,55.11 451.87,57.09 452.2,59.11 452.53,61.17 452.85,63.26 453.18,65.38 453.51,67.52 453.84,69.68 454.17,71.87 454.5,74.06 454.83,76.27 455.16,78.48 455.49,80.69 455.82,82.9 456.15,85.1 456.47,87.3 456.8,89.48 457.13,91.64 457.46,93.79 457.79,95.9 458.12,97.99 458.45,100.05 458.78,102.07 459.11,104.05 459.44,105.99 459.77,107.88 460.09,109.73 460.42,111.52 460.75,113.25 461.08,114.92 461.41,116.54 461.74,118.08 462.07,119.56 462.4,120.98 462.73,122.31 463.06,123.58 463.39,124.76 463.72,125.87 464.04,126.89 464.37,127.83 464.7,128.69 465.03,129.46 465.36,130.15 465.69,130.74 466.02,131.25 466.35,131.66 466.68,131.98 467.01,132.21 467.34,132.35 467.66,132.4 541.71,132.4" class="bl bz"/><polyline points="393.61,132.4 442.98,132.4 443.31,132.35 443.64,132.21 443.97,131.98 444.3,131.66 444.63,131.25 444.96,130.74 445.28,130.15 445.61,129.46 445.94,128.69 446.27,127.83 446.6,126.89 446.93,125.87 447.26,124.76 447.59,123.58 447.92,122.31 448.25,120.98 448.58,119.56 448.91,118.08 449.23,116.54 449.56,114.92 449.89,113.25 450.22,111.52 450.55,109.73 450.88,107.88 451.21,105.99 451.54,104.05 451.87,102.07 452.2,100.05 452.53,97.99 452.85,95.9 453.18,93.79 453.51,91.64 453.84,89.48 454.17,87.3 454.5,85.1 454.83,82.9 455.16,80.69 455.49,78.48 455.82,76.27 456.15,74.06 456.47,71.87 456.8,69.68 457.13,67.52 457.46,65.38 457.79,63.26 458.12,61.17 458.45,59.11 458.78,57.09 459.11,55.11 459.44,53.17 459.77,51.28 460.09,49.44 460.42,47.65 460.75,45.91 461.08,44.24 461.41,42.63 461.74,41.08 462.07,39.6 462.4,38.19 462.73,36.85 463.06,35.59 463.39,34.4 463.72,33.3 464.04,32.27 464.37,31.33 464.7,30.47 465.03,29.7 465.36,29.02 465.69,28.42 466.02,27.92 466.35,27.5 466.68,27.18 467.01,26.95 467.34,26.81 467.66,26.76 467.99,26.81 468.32,26.95 468.65,27.18 468.98,27.5 469.31,27.92 469.64,28.42 469.97,29.02 470.3,29.7 470.63,30.47 470.96,31.33 471.28,32.27 471.61,33.3 471.94,34.4 472.27,35.59 472.6,36.85 472.93,38.19 473.26,39.6 473.59,41.08 473.92,42.63 474.25,44.24 474.58,45.91 474.9,47.65 475.23,49.44 475.56,51.28 475.89,53.17 476.22,55.11 476.55,57.09 476.88,59.11 477.21,61.17 477.54,63.26 477.87,65.38 478.2,67.52 478.53,69.68 478.85,71.87 479.18,74.06 479.51,76.27 479.84,78.48 480.17,80.69 480.5,82.9 480.83,85.1 481.16,87.3 481.49,89.48 481.82,91.64 482.15,93.79 482.47,95.9 482.8,97.99 483.13,100.05 483.46,102.07 483.79,104.05 484.12,105.99 484.45,107.88 484.78,109.73 485.11,111.52 485.44,113.25 485.77,114.92 486.09,116.54 486.42,118.08 486.75,119.56 487.08,120.98 487.41,122.31 487.74,123.58 488.07,124.76 488.4,125.87 488.73,126.89 489.06,127.83 489.39,128.69 489.71,129.46 490.04,130.15 490.37,130.74 490.7,131.25 491.03,131.66 491.36,131.98 491.69,132.21 492.02,132.35 492.35,132.4 541.71,132.4" class="bl bz"/><polyline points="393.61,132.4 467.66,132.4 467.99,132.35 468.32,132.21 468.65,131.98 468.98,131.66 469.31,131.25 469.64,130.74 469.97,130.15 470.3,129.46 470.63,128.69 470.96,127.83 471.28,126.89 471.61,125.87 471.94,124.76 472.27,123.58 472.6,122.31 472.93,120.98 473.26,119.56 473.59,118.08 473.92,116.54 474.25,114.92 474.58,113.25 474.9,111.52 475.23,109.73 475.56,107.88 475.89,105.99 476.22,104.05 476.55,102.07 476.88,100.05 477.21,97.99 477.54,95.9 477.87,93.79 478.2,91.64 478.53,89.48 478.85,87.3 479.18,85.1 479.51,82.9 479.84,80.69 480.17,78.48 480.5,76.27 480.83,74.06 481.16,71.87 481.49,69.68 481.82,67.52 482.15,65.38 482.47,63.26 482.8,61.17 483.13,59.11 483.46,57.09 483.79,55.11 484.12,53.17 484.45,51.28 484.78,49.44 485.11,47.65 485.44,45.91 485.77,44.24 486.09,42.63 486.42,41.08 486.75,39.6 487.08,38.19 487.41,36.85 487.74,35.59 488.07,34.4 488.4,33.3 488.73,32.27 489.06,31.33 489.39,30.47 489.71,29.7 490.04,29.02 490.37,28.42 490.7,27.92 491.03,27.5 491.36,27.18 491.69,26.95 492.02,26.81 492.35,26.76 492.68,26.81 493.01,26.95 493.34,27.18 493.66,27.5 493.99,27.92 494.32,28.42 494.65,29.02 494.98,29.7 495.31,30.47 495.64,31.33 495.97,32.27 496.3,33.3 496.63,34.4 496.96,35.59 497.28,36.85 497.61,38.19 497.94,39.6 498.27,41.08 498.6,42.63 498.93,44.24 499.26,45.91 499.59,47.65 499.92,49.44 500.25,51.28 500.58,53.17 500.9,55.11 501.23,57.09 501.56,59.11 501.89,61.17 502.22,63.26 502.55,65.38 502.88,67.52 503.21,69.68 503.54,71.87 503.87,74.06 504.2,76.27 504.52,78.48 504.85,80.69 505.18,82.9 505.51,85.1 505.84,87.3 506.17,89.48 506.5,91.64 506.83,93.79 507.16,95.9 507.49,97.99 507.82,100.05 508.15,102.07 508.47,104.05 508.8,105.99 509.13,107.88 509.46,109.73 509.79,111.52 510.12,113.25 510.45,114.92 510.78,116.54 511.11,118.08 511.44,119.56 511.77,120.98 512.09,122.31 512.42,123.58 512.75,124.76 513.08,125.87 513.41,126.89 513.74,127.83 514.07,128.69 514.4,129.46 514.73,130.15 515.06,130.74 515.39,131.25 515.71,131.66 516.04,131.98 516.37,132.21 516.7,132.35 517.03,132.4 541.71,132.4" class="bl bz"/><polyline points="393.61,132.4 492.35,132.4 492.68,132.35 493.01,132.21 493.34,131.98 493.66,131.66 493.99,131.25 494.32,130.74 494.65,130.15 494.98,129.46 495.31,128.69 495.64,127.83 495.97,126.89 496.3,125.87 496.63,124.76 496.96,123.58 497.28,122.31 497.61,120.98 497.94,119.56 498.27,118.08 498.6,116.54 498.93,114.92 499.26,113.25 499.59,111.52 499.92,109.73 500.25,107.88 500.58,105.99 500.9,104.05 501.23,102.07 501.56,100.05 501.89,97.99 502.22,95.9 502.55,93.79 502.88,91.64 503.21,89.48 503.54,87.3 503.87,85.1 504.2,82.9 504.52,80.69 504.85,78.48 505.18,76.27 505.51,74.06 505.84,71.87 506.17,69.68 506.5,67.52 506.83,65.38 507.16,63.26 507.49,61.17 507.82,59.11 508.15,57.09 508.47,55.11 508.8,53.17 509.13,51.28 509.46,49.44 509.79,47.65 510.12,45.91 510.45,44.24 510.78,42.63 511.11,41.08 511.44,39.6 511.77,38.19 512.09,36.85 512.42,35.59 512.75,34.4 513.08,33.3 513.41,32.27 513.74,31.33 514.07,30.47 514.4,29.7 514.73,29.02 515.06,28.42 515.39,27.92 515.71,27.5 516.04,27.18 516.37,26.95 516.7,26.81 517.03,26.76 517.36,26.81 517.69,26.95 518.02,27.18 518.35,27.5 518.68,27.92 519.01,28.42 519.33,29.02 519.66,29.7 519.99,30.47 520.32,31.33 520.65,32.27 520.98,33.3 521.31,34.4 521.64,35.59 521.97,36.85 522.3,38.19 522.63,39.6 522.96,41.08 523.28,42.63 523.61,44.24 523.94,45.91 524.27,47.65 524.6,49.44 524.93,51.28 525.26,53.17 525.59,55.11 525.92,57.09 526.25,59.11 526.58,61.17 526.9,63.26 527.23,65.38 527.56,67.52 527.89,69.68 528.22,71.87 528.55,74.06 528.88,76.27 529.21,78.48 529.54,80.69 529.87,82.9 530.2,85.1 530.52,87.3 530.85,89.48 531.18,91.64 531.51,93.79 531.84,95.9 532.17,97.99 532.5,100.05 532.83,102.07 533.16,104.05 533.49,105.99 533.82,107.88 534.14,109.73 534.47,111.52 534.8,113.25 535.13,114.92 535.46,116.54 535.79,118.08 536.12,119.56 536.45,120.98 536.78,122.31 537.11,123.58 537.44,124.76 537.77,125.87 538.09,126.89 538.42,127.83 538.75,128.69 539.08,129.46 539.41,130.15 539.74,130.74 540.07,131.25 540.4,131.66 540.73,131.98 541.06,132.21 541.39,132.35 541.71,132.4" class="bl bz"/></g><g clip-path="url(#c2a)"><polyline points="393.61,132.4 393.94,132.35 394.27,132.21 394.6,131.98 394.93,131.66 395.26,131.25 395.59,130.74 395.92,130.15 396.25,129.46 396.58,128.69 396.91,127.83 397.23,126.89 397.56,125.87 397.89,124.76 398.22,123.58 398.55,122.31 398.88,120.98 399.21,119.56 399.54,118.08 399.87,116.54 400.2,114.92 400.53,113.25 400.85,111.52 401.18,109.73 401.51,107.88 401.84,105.99 402.17,104.05 402.5,102.07 402.83,100.05 403.16,97.99 403.49,95.9 403.82,93.79 404.15,91.64 404.48,89.48 404.8,87.3 405.13,85.1 405.46,82.9 405.79,80.69 406.12,78.48 406.45,76.27 406.78,74.06 407.11,71.87 407.44,69.68 407.77,67.52 408.1,65.38 408.42,63.26 408.75,61.17 409.08,59.11 409.41,57.09 409.74,55.11 410.07,53.17 410.4,51.28 410.73,49.44 411.06,47.65 411.39,45.91 411.72,44.24 412.04,42.63 412.37,41.08 412.7,39.6 413.03,38.19 413.36,36.85 413.69,35.59 414.02,34.4 414.35,33.3 414.68,32.27 415.01,31.33 415.34,30.47 415.66,29.7 415.99,29.02 416.32,28.42 416.65,27.92 416.98,27.5 417.31,27.18 417.64,26.95 417.97,26.81 418.3,26.76 418.63,26.81 418.96,26.95 419.29,27.18 419.61,27.5 419.94,27.92 420.27,28.42 420.6,29.02 420.93,29.7 421.26,30.47 421.59,31.33 421.92,32.27 422.25,33.3 422.58,34.4 422.91,35.59 423.23,36.85 423.56,38.19 423.89,39.6 424.22,41.08 424.55,42.63 424.88,44.24 425.21,45.91 425.54,47.65 425.87,49.44 426.2,51.28 426.53,53.17 426.85,55.11 427.18,57.09 427.51,59.11 427.84,61.17 428.17,63.26 428.5,65.38 428.83,67.52 429.16,69.68 429.49,71.87 429.82,74.06 430.15,76.27 430.47,78.48 430.8,80.69 431.13,82.9 431.46,85.1 431.79,87.3 432.12,89.48 432.45,91.64 432.78,93.79 433.11,95.9 433.44,97.99 433.77,100.05 434.1,102.07 434.42,104.05 434.75,105.99 435.08,107.88 435.41,109.73 435.74,111.52 436.07,113.25 436.4,114.92 436.73,116.54 437.06,118.08 437.39,119.56 437.72,120.98 438.04,122.31 438.37,123.58 438.7,124.76 439.03,125.87 439.36,126.89 439.69,127.83 440.02,128.69 440.35,129.46 440.68,130.15 441.01,130.74 441.34,131.25 441.66,131.66 441.99,131.98 442.32,132.21 442.65,132.35 442.98,132.4 541.71,132.4" class="bl"/><polyline points="393.61,132.4 418.3,132.4 418.63,132.35 418.96,132.21 419.29,131.98 419.61,131.66 419.94,131.25 420.27,130.74 420.6,130.15 420.93,129.46 421.26,128.69 421.59,127.83 421.92,126.89 422.25,125.87 422.58,124.76 422.91,123.58 423.23,122.31 423.56,120.98 423.89,119.56 424.22,118.08 424.55,116.54 424.88,114.92 425.21,113.25 425.54,111.52 425.87,109.73 426.2,107.88 426.53,105.99 426.85,104.05 427.18,102.07 427.51,100.05 427.84,97.99 428.17,95.9 428.5,93.79 428.83,91.64 429.16,89.48 429.49,87.3 429.82,85.1 430.15,82.9 430.47,80.69 430.8,78.48 431.13,76.27 431.46,74.06 431.79,71.87 432.12,69.68 432.45,67.52 432.78,65.38 433.11,63.26 433.44,61.17 433.77,59.11 434.1,57.09 434.42,55.11 434.75,53.17 435.08,51.28 435.41,49.44 435.74,47.65 436.07,45.91 436.4,44.24 436.73,42.63 437.06,41.08 437.39,39.6 437.72,38.19 438.04,36.85 438.37,35.59 438.7,34.4 439.03,33.3 439.36,32.27 439.69,31.33 440.02,30.47 440.35,29.7 440.68,29.02 441.01,28.42 441.34,27.92 441.66,27.5 441.99,27.18 442.32,26.95 442.65,26.81 442.98,26.76 443.31,26.81 443.64,26.95 443.97,27.18 444.3,27.5 444.63,27.92 444.96,28.42 445.28,29.02 445.61,29.7 445.94,30.47 446.27,31.33 446.6,32.27 446.93,33.3 447.26,34.4 447.59,35.59 447.92,36.85 448.25,38.19 448.58,39.6 448.91,41.08 449.23,42.63 449.56,44.24 449.89,45.91 450.22,47.65 450.55,49.44 450.88,51.28 451.21,53.17 451.54,55.11 451.87,57.09 452.2,59.11 452.53,61.17 452.85,63.26 453.18,65.38 453.51,67.52 453.84,69.68 454.17,71.87 454.5,74.06 454.83,76.27 455.16,78.48 455.49,80.69 455.82,82.9 456.15,85.1 456.47,87.3 456.8,89.48 457.13,91.64 457.46,93.79 457.79,95.9 458.12,97.99 458.45,100.05 458.78,102.07 459.11,104.05 459.44,105.99 459.77,107.88 460.09,109.73 460.42,111.52 460.75,113.25 461.08,114.92 461.41,116.54 461.74,118.08 462.07,119.56 462.4,120.98 462.73,122.31 463.06,123.58 463.39,124.76 463.72,125.87 464.04,126.89 464.37,127.83 464.7,128.69 465.03,129.46 465.36,130.15 465.69,130.74 466.02,131.25 466.35,131.66 466.68,131.98 467.01,132.21 467.34,132.35 467.66,132.4 541.71,132.4" class="bl"/><polyline points="393.61,132.4 442.98,132.4 443.31,132.35 443.64,132.21 443.97,131.98 444.3,131.66 444.63,131.25 444.96,130.74 445.28,130.15 445.61,129.46 445.94,128.69 446.27,127.83 446.6,126.89 446.93,125.87 447.26,124.76 447.59,123.58 447.92,122.31 448.25,120.98 448.58,119.56 448.91,118.08 449.23,116.54 449.56,114.92 449.89,113.25 450.22,111.52 450.55,109.73 450.88,107.88 451.21,105.99 451.54,104.05 451.87,102.07 452.2,100.05 452.53,97.99 452.85,95.9 453.18,93.79 453.51,91.64 453.84,89.48 454.17,87.3 454.5,85.1 454.83,82.9 455.16,80.69 455.49,78.48 455.82,76.27 456.15,74.06 456.47,71.87 456.8,69.68 457.13,67.52 457.46,65.38 457.79,63.26 458.12,61.17 458.45,59.11 458.78,57.09 459.11,55.11 459.44,53.17 459.77,51.28 460.09,49.44 460.42,47.65 460.75,45.91 461.08,44.24 461.41,42.63 461.74,41.08 462.07,39.6 462.4,38.19 462.73,36.85 463.06,35.59 463.39,34.4 463.72,33.3 464.04,32.27 464.37,31.33 464.7,30.47 465.03,29.7 465.36,29.02 465.69,28.42 466.02,27.92 466.35,27.5 466.68,27.18 467.01,26.95 467.34,26.81 467.66,26.76 467.99,26.81 468.32,26.95 468.65,27.18 468.98,27.5 469.31,27.92 469.64,28.42 469.97,29.02 470.3,29.7 470.63,30.47 470.96,31.33 471.28,32.27 471.61,33.3 471.94,34.4 472.27,35.59 472.6,36.85 472.93,38.19 473.26,39.6 473.59,41.08 473.92,42.63 474.25,44.24 474.58,45.91 474.9,47.65 475.23,49.44 475.56,51.28 475.89,53.17 476.22,55.11 476.55,57.09 476.88,59.11 477.21,61.17 477.54,63.26 477.87,65.38 478.2,67.52 478.53,69.68 478.85,71.87 479.18,74.06 479.51,76.27 479.84,78.48 480.17,80.69 480.5,82.9 480.83,85.1 481.16,87.3 481.49,89.48 481.82,91.64 482.15,93.79 482.47,95.9 482.8,97.99 483.13,100.05 483.46,102.07 483.79,104.05 484.12,105.99 484.45,107.88 484.78,109.73 485.11,111.52 485.44,113.25 485.77,114.92 486.09,116.54 486.42,118.08 486.75,119.56 487.08,120.98 487.41,122.31 487.74,123.58 488.07,124.76 488.4,125.87 488.73,126.89 489.06,127.83 489.39,128.69 489.71,129.46 490.04,130.15 490.37,130.74 490.7,131.25 491.03,131.66 491.36,131.98 491.69,132.21 492.02,132.35 492.35,132.4 541.71,132.4" class="bl"/><polyline points="393.61,132.4 467.66,132.4 467.99,132.35 468.32,132.21 468.65,131.98 468.98,131.66 469.31,131.25 469.64,130.74 469.97,130.15 470.3,129.46 470.63,128.69 470.96,127.83 471.28,126.89 471.61,125.87 471.94,124.76 472.27,123.58 472.6,122.31 472.93,120.98 473.26,119.56 473.59,118.08 473.92,116.54 474.25,114.92 474.58,113.25 474.9,111.52 475.23,109.73 475.56,107.88 475.89,105.99 476.22,104.05 476.55,102.07 476.88,100.05 477.21,97.99 477.54,95.9 477.87,93.79 478.2,91.64 478.53,89.48 478.85,87.3 479.18,85.1 479.51,82.9 479.84,80.69 480.17,78.48 480.5,76.27 480.83,74.06 481.16,71.87 481.49,69.68 481.82,67.52 482.15,65.38 482.47,63.26 482.8,61.17 483.13,59.11 483.46,57.09 483.79,55.11 484.12,53.17 484.45,51.28 484.78,49.44 485.11,47.65 485.44,45.91 485.77,44.24 486.09,42.63 486.42,41.08 486.75,39.6 487.08,38.19 487.41,36.85 487.74,35.59 488.07,34.4 488.4,33.3 488.73,32.27 489.06,31.33 489.39,30.47 489.71,29.7 490.04,29.02 490.37,28.42 490.7,27.92 491.03,27.5 491.36,27.18 491.69,26.95 492.02,26.81 492.35,26.76 492.68,26.81 493.01,26.95 493.34,27.18 493.66,27.5 493.99,27.92 494.32,28.42 494.65,29.02 494.98,29.7 495.31,30.47 495.64,31.33 495.97,32.27 496.3,33.3 496.63,34.4 496.96,35.59 497.28,36.85 497.61,38.19 497.94,39.6 498.27,41.08 498.6,42.63 498.93,44.24 499.26,45.91 499.59,47.65 499.92,49.44 500.25,51.28 500.58,53.17 500.9,55.11 501.23,57.09 501.56,59.11 501.89,61.17 502.22,63.26 502.55,65.38 502.88,67.52 503.21,69.68 503.54,71.87 503.87,74.06 504.2,76.27 504.52,78.48 504.85,80.69 505.18,82.9 505.51,85.1 505.84,87.3 506.17,89.48 506.5,91.64 506.83,93.79 507.16,95.9 507.49,97.99 507.82,100.05 508.15,102.07 508.47,104.05 508.8,105.99 509.13,107.88 509.46,109.73 509.79,111.52 510.12,113.25 510.45,114.92 510.78,116.54 511.11,118.08 511.44,119.56 511.77,120.98 512.09,122.31 512.42,123.58 512.75,124.76 513.08,125.87 513.41,126.89 513.74,127.83 514.07,128.69 514.4,129.46 514.73,130.15 515.06,130.74 515.39,131.25 515.71,131.66 516.04,131.98 516.37,132.21 516.7,132.35 517.03,132.4 541.71,132.4" class="bl"/><polyline points="393.61,132.4 492.35,132.4 492.68,132.35 493.01,132.21 493.34,131.98 493.66,131.66 493.99,131.25 494.32,130.74 494.65,130.15 494.98,129.46 495.31,128.69 495.64,127.83 495.97,126.89 496.3,125.87 496.63,124.76 496.96,123.58 497.28,122.31 497.61,120.98 497.94,119.56 498.27,118.08 498.6,116.54 498.93,114.92 499.26,113.25 499.59,111.52 499.92,109.73 500.25,107.88 500.58,105.99 500.9,104.05 501.23,102.07 501.56,100.05 501.89,97.99 502.22,95.9 502.55,93.79 502.88,91.64 503.21,89.48 503.54,87.3 503.87,85.1 504.2,82.9 504.52,80.69 504.85,78.48 505.18,76.27 505.51,74.06 505.84,71.87 506.17,69.68 506.5,67.52 506.83,65.38 507.16,63.26 507.49,61.17 507.82,59.11 508.15,57.09 508.47,55.11 508.8,53.17 509.13,51.28 509.46,49.44 509.79,47.65 510.12,45.91 510.45,44.24 510.78,42.63 511.11,41.08 511.44,39.6 511.77,38.19 512.09,36.85 512.42,35.59 512.75,34.4 513.08,33.3 513.41,32.27 513.74,31.33 514.07,30.47 514.4,29.7 514.73,29.02 515.06,28.42 515.39,27.92 515.71,27.5 516.04,27.18 516.37,26.95 516.7,26.81 517.03,26.76 517.36,26.81 517.69,26.95 518.02,27.18 518.35,27.5 518.68,27.92 519.01,28.42 519.33,29.02 519.66,29.7 519.99,30.47 520.32,31.33 520.65,32.27 520.98,33.3 521.31,34.4 521.64,35.59 521.97,36.85 522.3,38.19 522.63,39.6 522.96,41.08 523.28,42.63 523.61,44.24 523.94,45.91 524.27,47.65 524.6,49.44 524.93,51.28 525.26,53.17 525.59,55.11 525.92,57.09 526.25,59.11 526.58,61.17 526.9,63.26 527.23,65.38 527.56,67.52 527.89,69.68 528.22,71.87 528.55,74.06 528.88,76.27 529.21,78.48 529.54,80.69 529.87,82.9 530.2,85.1 530.52,87.3 530.85,89.48 531.18,91.64 531.51,93.79 531.84,95.9 532.17,97.99 532.5,100.05 532.83,102.07 533.16,104.05 533.49,105.99 533.82,107.88 534.14,109.73 534.47,111.52 534.8,113.25 535.13,114.92 535.46,116.54 535.79,118.08 536.12,119.56 536.45,120.98 536.78,122.31 537.11,123.58 537.44,124.76 537.77,125.87 538.09,126.89 538.42,127.83 538.75,128.69 539.08,129.46 539.41,130.15 539.74,130.74 540.07,131.25 540.4,131.66 540.73,131.98 541.06,132.21 541.39,132.35 541.71,132.4" class="bl"/></g><polyline points="393.61,132.4 393.94,132.35 394.27,132.21 394.6,131.98 394.93,131.66 395.26,131.25 395.59,130.74 395.92,130.15 396.25,129.46 396.58,128.69 396.91,127.83 397.23,126.89 397.56,125.87 397.89,124.76 398.22,123.58 398.55,122.31 398.88,120.98 399.21,119.56 399.54,118.08 399.87,116.54 400.2,114.92 400.53,113.25 400.85,111.52 401.18,109.73 401.51,107.88 401.84,105.99 402.17,104.05 402.5,102.07 402.83,100.05 403.16,97.99 403.49,95.9 403.82,93.79 404.15,91.64 404.48,89.48 404.8,87.3 405.13,85.1 405.46,82.9 405.79,80.69 406.12,78.48 406.45,76.27 406.78,74.06 407.11,71.87 407.44,69.68 407.77,67.52 408.1,65.38 408.42,63.26 408.75,61.17 409.08,59.11 409.41,57.09 409.74,55.11 410.07,53.17 410.4,51.28 410.73,49.44 411.06,47.65 411.39,45.91 411.72,44.24 412.04,42.63 412.37,41.08 412.7,39.6 413.03,38.19 413.36,36.85 413.69,35.59 414.02,34.4 414.35,33.3 414.68,32.27 415.01,31.33 415.34,30.47 415.66,29.7 415.99,29.02 416.32,28.42 416.65,27.92 416.98,27.5 417.31,27.18 417.64,26.95 417.97,26.81 418.3,26.76 418.63,26.76 418.96,26.76 419.29,26.76 419.61,26.76 419.94,26.76 420.27,26.76 420.6,26.76 420.93,26.76 421.26,26.76 421.59,26.76 421.92,26.76 422.25,26.76 422.58,26.76 422.91,26.76 423.23,26.76 423.56,26.76 423.89,26.76 424.22,26.76 424.55,26.76 424.88,26.76 425.21,26.76 425.54,26.76 425.87,26.76 426.2,26.76 426.53,26.76 426.85,26.76 427.18,26.76 427.51,26.76 427.84,26.76 428.17,26.76 428.5,26.76 428.83,26.76 429.16,26.76 429.49,26.76 429.82,26.76 430.15,26.76 430.47,26.76 430.8,26.76 431.13,26.76 431.46,26.76 431.79,26.76 432.12,26.76 432.45,26.76 432.78,26.76 433.11,26.76 433.44,26.76 433.77,26.76 434.1,26.76 434.42,26.76 434.75,26.76 435.08,26.76 435.41,26.76 435.74,26.76 436.07,26.76 436.4,26.76 436.73,26.76 437.06,26.76 437.39,26.76 437.72,26.76 438.04,26.76 438.37,26.76 438.7,26.76 439.03,26.76 439.36,26.76 439.69,26.76 440.02,26.76 440.35,26.76 440.68,26.76 441.01,26.76 441.34,26.76 441.66,26.76 441.99,26.76 442.32,26.76 442.65,26.76 442.98,26.76 443.31,26.76 443.64,26.76 443.97,26.76 444.3,26.76 444.63,26.76 444.96,26.76 445.28,26.76 445.61,26.76 445.94,26.76 446.27,26.76 446.6,26.76 446.93,26.76 447.26,26.76 447.59,26.76 447.92,26.76 448.25,26.76 448.58,26.76 448.91,26.76 449.23,26.76 449.56,26.76 449.89,26.76 450.22,26.76 450.55,26.76 450.88,26.76 451.21,26.76 451.54,26.76 451.87,26.76 452.2,26.76 452.53,26.76 452.85,26.76 453.18,26.76 453.51,26.76 453.84,26.76 454.17,26.76 454.5,26.76 454.83,26.76 455.16,26.76 455.49,26.76 455.82,26.76 456.15,26.76 456.47,26.76 456.8,26.76 457.13,26.76 457.46,26.76 457.79,26.76 458.12,26.76 458.45,26.76 458.78,26.76 459.11,26.76 459.44,26.76 459.77,26.76 460.09,26.76 460.42,26.76 460.75,26.76 461.08,26.76 461.41,26.76 461.74,26.76 462.07,26.76 462.4,26.76 462.73,26.76 463.06,26.76 463.39,26.76 463.72,26.76 464.04,26.76 464.37,26.76 464.7,26.76 465.03,26.76 465.36,26.76 465.69,26.76 466.02,26.76 466.35,26.76 466.68,26.76 467.01,26.76 467.34,26.76 467.66,26.76 467.99,26.76 468.32,26.76 468.65,26.76 468.98,26.76 469.31,26.76 469.64,26.76 469.97,26.76 470.3,26.76 470.63,26.76 470.96,26.76 471.28,26.76 471.61,26.76 471.94,26.76 472.27,26.76 472.6,26.76 472.93,26.76 473.26,26.76 473.59,26.76 473.92,26.76 474.25,26.76 474.58,26.76 474.9,26.76 475.23,26.76 475.56,26.76 475.89,26.76 476.22,26.76 476.55,26.76 476.88,26.76 477.21,26.76 477.54,26.76 477.87,26.76 478.2,26.76 478.53,26.76 478.85,26.76 479.18,26.76 479.51,26.76 479.84,26.76 480.17,26.76 480.5,26.76 480.83,26.76 481.16,26.76 481.49,26.76 481.82,26.76 482.15,26.76 482.47,26.76 482.8,26.76 483.13,26.76 483.46,26.76 483.79,26.76 484.12,26.76 484.45,26.76 484.78,26.76 485.11,26.76 485.44,26.76 485.77,26.76 486.09,26.76 486.42,26.76 486.75,26.76 487.08,26.76 487.41,26.76 487.74,26.76 488.07,26.76 488.4,26.76 488.73,26.76 489.06,26.76 489.39,26.76 489.71,26.76 490.04,26.76 490.37,26.76 490.7,26.76 491.03,26.76 491.36,26.76 491.69,26.76 492.02,26.76 492.35,26.76 492.68,26.76 493.01,26.76 493.34,26.76 493.66,26.76 493.99,26.76 494.32,26.76 494.65,26.76 494.98,26.76 495.31,26.76 495.64,26.76 495.97,26.76 496.3,26.76 496.63,26.76 496.96,26.76 497.28,26.76 497.61,26.76 497.94,26.76 498.27,26.76 498.6,26.76 498.93,26.76 499.26,26.76 499.59,26.76 499.92,26.76 500.25,26.76 500.58,26.76 500.9,26.76 501.23,26.76 501.56,26.76 501.89,26.76 502.22,26.76 502.55,26.76 502.88,26.76 503.21,26.76 503.54,26.76 503.87,26.76 504.2,26.76 504.52,26.76 504.85,26.76 505.18,26.76 505.51,26.76 505.84,26.76 506.17,26.76 506.5,26.76 506.83,26.76 507.16,26.76 507.49,26.76 507.82,26.76 508.15,26.76 508.47,26.76 508.8,26.76 509.13,26.76 509.46,26.76 509.79,26.76 510.12,26.76 510.45,26.76 510.78,26.76 511.11,26.76 511.44,26.76 511.77,26.76 512.09,26.76 512.42,26.76 512.75,26.76 513.08,26.76 513.41,26.76 513.74,26.76 514.07,26.76 514.4,26.76 514.73,26.76 515.06,26.76 515.39,26.76 515.71,26.76 516.04,26.76 516.37,26.76 516.7,26.76 517.03,26.76 517.36,26.81 517.69,26.95 518.02,27.18 518.35,27.5 518.68,27.92 519.01,28.42 519.33,29.02 519.66,29.7 519.99,30.47 520.32,31.33 520.65,32.27 520.98,33.3 521.31,34.4 521.64,35.59 521.97,36.85 522.3,38.19 522.63,39.6 522.96,41.08 523.28,42.63 523.61,44.24 523.94,45.91 524.27,47.65 524.6,49.44 524.93,51.28 525.26,53.17 525.59,55.11 525.92,57.09 526.25,59.11 526.58,61.17 526.9,63.26 527.23,65.38 527.56,67.52 527.89,69.68 528.22,71.87 528.55,74.06 528.88,76.27 529.21,78.48 529.54,80.69 529.87,82.9 530.2,85.1 530.52,87.3 530.85,89.48 531.18,91.64 531.51,93.79 531.84,95.9 532.17,97.99 532.5,100.05 532.83,102.07 533.16,104.05 533.49,105.99 533.82,107.88 534.14,109.73 534.47,111.52 534.8,113.25 535.13,114.92 535.46,116.54 535.79,118.08 536.12,119.56 536.45,120.98 536.78,122.31 537.11,123.58 537.44,124.76 537.77,125.87 538.09,126.89 538.42,127.83 538.75,128.69 539.08,129.46 539.41,130.15 539.74,130.74 540.07,131.25 540.4,131.66 540.73,131.98 541.06,132.21 541.39,132.35 541.71,132.4" class="rd" clip-path="url(#c2r)"/></g><g><rect x="23.55" y="163.05" width="147.45" height="116.65" class="ax"/><path d="M23.55 279.7v-2.0M23.55 163.05v2.0" class="tk"/><path d="M42.75 279.7v-2.0M42.75 163.05v2.0" class="tk"/><path d="M61.95 279.7v-2.0M61.95 163.05v2.0" class="tk"/><path d="M81.15 279.7v-2.0M81.15 163.05v2.0" class="tk"/><path d="M100.35 279.7v-2.0M100.35 163.05v2.0" class="tk"/><path d="M119.55 279.7v-2.0M119.55 163.05v2.0" class="tk"/><path d="M138.75 279.7v-2.0M138.75 163.05v2.0" class="tk"/><path d="M157.94 279.7v-2.0M157.94 163.05v2.0" class="tk"/><path d="M23.55 279.7h2.0M171 279.7h-2.0" class="tk"/><path d="M23.55 258.49h2.0M171 258.49h-2.0" class="tk"/><path d="M23.55 237.28h2.0M171 237.28h-2.0" class="tk"/><path d="M23.55 216.07h2.0M171 216.07h-2.0" class="tk"/><path d="M23.55 194.86h2.0M171 194.86h-2.0" class="tk"/><path d="M23.55 173.65h2.0M171 173.65h-2.0" class="tk"/><clipPath id="c3a"><rect x="23.55" y="161.05" width="147.45" height="117.95"/></clipPath><clipPath id="c3b"><rect x="23.55" y="279" width="147.45" height="3"/></clipPath><clipPath id="c3r"><rect x="23.55" y="160.05" width="147.45" height="122.65"/></clipPath><line x1="23.55" y1="279.7" x2="171" y2="279.7" class="bo"/><g clip-path="url(#c3b)"><polyline points="23.65,279.7 24.03,279.64 24.41,279.44 24.8,279.13 25.18,278.68 25.57,278.11 25.95,277.42 26.33,276.6 26.72,275.66 27.1,274.61 27.49,273.44 27.87,272.16 28.25,270.76 28.64,269.27 29.02,267.66 29.41,265.96 29.79,264.17 30.17,262.29 30.56,260.31 30.94,258.26 31.33,256.14 31.71,253.94 32.09,251.67 32.48,249.35 32.86,246.97 33.25,244.54 33.63,242.07 34.01,239.56 34.4,237.02 34.78,234.46 35.17,231.87 35.55,229.28 35.93,226.68 36.32,224.08 36.7,221.48 37.09,218.9 37.47,216.33 37.85,213.79 38.24,211.29 38.62,208.81 39.01,206.39 39.39,204.01 39.77,201.68 40.16,199.42 40.54,197.22 40.93,195.09 41.31,193.04 41.69,191.07 42.08,189.18 42.46,187.39 42.85,185.69 43.23,184.09 43.61,182.59 44,181.2 44.38,179.92 44.77,178.75 45.15,177.69 45.53,176.75 45.92,175.94 46.3,175.24 46.69,174.67 47.07,174.23 47.45,173.91 47.84,173.72 48.22,173.65 48.6,173.72 48.99,173.91 49.37,174.23 49.76,174.67 50.14,175.24 50.52,175.94 50.91,176.75 51.29,177.69 51.68,178.75 52.06,179.92 52.44,181.2 52.83,182.59 53.21,184.09 53.6,185.69 53.98,187.39 54.36,189.18 54.75,191.07 55.13,193.04 55.52,195.09 55.9,197.22 56.28,199.42 56.67,201.68 57.05,204.01 57.44,206.39 57.82,208.81 58.2,211.29 58.59,213.79 58.97,216.33 59.36,218.9 59.74,221.48 60.12,224.08 60.51,226.68 60.89,229.28 61.28,231.87 61.66,234.46 62.04,237.02 62.43,239.56 62.81,242.07 63.2,244.54 63.58,246.97 63.96,249.35 64.35,251.67 64.73,253.94 65.12,256.14 65.5,258.26 65.88,260.31 66.27,262.29 66.65,264.17 67.04,265.96 67.42,267.66 67.8,269.27 68.19,270.76 68.57,272.16 68.96,273.44 69.34,274.61 69.72,275.66 70.11,276.6 70.49,277.42 70.88,278.11 71.26,278.68 71.64,279.13 72.03,279.44 72.41,279.64 72.8,279.7 171.1,279.7" class="bl bz"/><polyline points="23.65,279.7 48.22,279.7 48.6,279.64 48.99,279.44 49.37,279.13 49.76,278.68 50.14,278.11 50.52,277.42 50.91,276.6 51.29,275.66 51.68,274.61 52.06,273.44 52.44,272.16 52.83,270.76 53.21,269.27 53.6,267.66 53.98,265.96 54.36,264.17 54.75,262.29 55.13,260.31 55.52,258.26 55.9,256.14 56.28,253.94 56.67,251.67 57.05,249.35 57.44,246.97 57.82,244.54 58.2,242.07 58.59,239.56 58.97,237.02 59.36,234.46 59.74,231.87 60.12,229.28 60.51,226.68 60.89,224.08 61.28,221.48 61.66,218.9 62.04,216.33 62.43,213.79 62.81,211.29 63.2,208.81 63.58,206.39 63.96,204.01 64.35,201.68 64.73,199.42 65.12,197.22 65.5,195.09 65.88,193.04 66.27,191.07 66.65,189.18 67.04,187.39 67.42,185.69 67.8,184.09 68.19,182.59 68.57,181.2 68.96,179.92 69.34,178.75 69.72,177.69 70.11,176.75 70.49,175.94 70.88,175.24 71.26,174.67 71.64,174.23 72.03,173.91 72.41,173.72 72.8,173.65 73.18,173.72 73.56,173.91 73.95,174.23 74.33,174.67 74.72,175.24 75.1,175.94 75.48,176.75 75.87,177.69 76.25,178.75 76.64,179.92 77.02,181.2 77.4,182.59 77.79,184.09 78.17,185.69 78.56,187.39 78.94,189.18 79.32,191.07 79.71,193.04 80.09,195.09 80.48,197.22 80.86,199.42 81.24,201.68 81.63,204.01 82.01,206.39 82.4,208.81 82.78,211.29 83.16,213.79 83.55,216.33 83.93,218.9 84.32,221.48 84.7,224.08 85.08,226.68 85.47,229.28 85.85,231.87 86.24,234.46 86.62,237.02 87,239.56 87.39,242.07 87.77,244.54 88.16,246.97 88.54,249.35 88.92,251.67 89.31,253.94 89.69,256.14 90.08,258.26 90.46,260.31 90.84,262.29 91.23,264.17 91.61,265.96 92,267.66 92.38,269.27 92.76,270.76 93.15,272.16 93.53,273.44 93.92,274.61 94.3,275.66 94.68,276.6 95.07,277.42 95.45,278.11 95.84,278.68 96.22,279.13 96.6,279.44 96.99,279.64 97.37,279.7 171.1,279.7" class="bl bz"/><polyline points="23.65,279.7 72.8,279.7 73.18,279.64 73.56,279.44 73.95,279.13 74.33,278.68 74.72,278.11 75.1,277.42 75.48,276.6 75.87,275.66 76.25,274.61 76.64,273.44 77.02,272.16 77.4,270.76 77.79,269.27 78.17,267.66 78.56,265.96 78.94,264.17 79.32,262.29 79.71,260.31 80.09,258.26 80.48,256.14 80.86,253.94 81.24,251.67 81.63,249.35 82.01,246.97 82.4,244.54 82.78,242.07 83.16,239.56 83.55,237.02 83.93,234.46 84.32,231.87 84.7,229.28 85.08,226.68 85.47,224.08 85.85,221.48 86.24,218.9 86.62,216.33 87,213.79 87.39,211.29 87.77,208.81 88.16,206.39 88.54,204.01 88.92,201.68 89.31,199.42 89.69,197.22 90.08,195.09 90.46,193.04 90.84,191.07 91.23,189.18 91.61,187.39 92,185.69 92.38,184.09 92.76,182.59 93.15,181.2 93.53,179.92 93.92,178.75 94.3,177.69 94.68,176.75 95.07,175.94 95.45,175.24 95.84,174.67 96.22,174.23 96.6,173.91 96.99,173.72 97.37,173.65 97.75,173.72 98.14,173.91 98.52,174.23 98.91,174.67 99.29,175.24 99.67,175.94 100.06,176.75 100.44,177.69 100.83,178.75 101.21,179.92 101.59,181.2 101.98,182.59 102.36,184.09 102.75,185.69 103.13,187.39 103.51,189.18 103.9,191.07 104.28,193.04 104.67,195.09 105.05,197.22 105.43,199.42 105.82,201.68 106.2,204.01 106.59,206.39 106.97,208.81 107.35,211.29 107.74,213.79 108.12,216.33 108.51,218.9 108.89,221.48 109.27,224.08 109.66,226.68 110.04,229.28 110.43,231.87 110.81,234.46 111.19,237.02 111.58,239.56 111.96,242.07 112.35,244.54 112.73,246.97 113.11,249.35 113.5,251.67 113.88,253.94 114.27,256.14 114.65,258.26 115.03,260.31 115.42,262.29 115.8,264.17 116.19,265.96 116.57,267.66 116.95,269.27 117.34,270.76 117.72,272.16 118.11,273.44 118.49,274.61 118.87,275.66 119.26,276.6 119.64,277.42 120.03,278.11 120.41,278.68 120.79,279.13 121.18,279.44 121.56,279.64 121.95,279.7 171.1,279.7" class="bl bz"/><polyline points="23.65,279.7 97.37,279.7 97.75,279.64 98.14,279.44 98.52,279.13 98.91,278.68 99.29,278.11 99.67,277.42 100.06,276.6 100.44,275.66 100.83,274.61 101.21,273.44 101.59,272.16 101.98,270.76 102.36,269.27 102.75,267.66 103.13,265.96 103.51,264.17 103.9,262.29 104.28,260.31 104.67,258.26 105.05,256.14 105.43,253.94 105.82,251.67 106.2,249.35 106.59,246.97 106.97,244.54 107.35,242.07 107.74,239.56 108.12,237.02 108.51,234.46 108.89,231.87 109.27,229.28 109.66,226.68 110.04,224.08 110.43,221.48 110.81,218.9 111.19,216.33 111.58,213.79 111.96,211.29 112.35,208.81 112.73,206.39 113.11,204.01 113.5,201.68 113.88,199.42 114.27,197.22 114.65,195.09 115.03,193.04 115.42,191.07 115.8,189.18 116.19,187.39 116.57,185.69 116.95,184.09 117.34,182.59 117.72,181.2 118.11,179.92 118.49,178.75 118.87,177.69 119.26,176.75 119.64,175.94 120.03,175.24 120.41,174.67 120.79,174.23 121.18,173.91 121.56,173.72 121.95,173.65 122.33,173.72 122.71,173.91 123.1,174.23 123.48,174.67 123.87,175.24 124.25,175.94 124.63,176.75 125.02,177.69 125.4,178.75 125.79,179.92 126.17,181.2 126.55,182.59 126.94,184.09 127.32,185.69 127.71,187.39 128.09,189.18 128.47,191.07 128.86,193.04 129.24,195.09 129.63,197.22 130.01,199.42 130.39,201.68 130.78,204.01 131.16,206.39 131.55,208.81 131.93,211.29 132.31,213.79 132.7,216.33 133.08,218.9 133.47,221.48 133.85,224.08 134.23,226.68 134.62,229.28 135,231.87 135.39,234.46 135.77,237.02 136.15,239.56 136.54,242.07 136.92,244.54 137.31,246.97 137.69,249.35 138.07,251.67 138.46,253.94 138.84,256.14 139.23,258.26 139.61,260.31 139.99,262.29 140.38,264.17 140.76,265.96 141.15,267.66 141.53,269.27 141.91,270.76 142.3,272.16 142.68,273.44 143.07,274.61 143.45,275.66 143.83,276.6 144.22,277.42 144.6,278.11 144.99,278.68 145.37,279.13 145.75,279.44 146.14,279.64 146.52,279.7 171.1,279.7" class="bl bz"/><polyline points="23.65,279.7 121.95,279.7 122.33,279.64 122.71,279.44 123.1,279.13 123.48,278.68 123.87,278.11 124.25,277.42 124.63,276.6 125.02,275.66 125.4,274.61 125.79,273.44 126.17,272.16 126.55,270.76 126.94,269.27 127.32,267.66 127.71,265.96 128.09,264.17 128.47,262.29 128.86,260.31 129.24,258.26 129.63,256.14 130.01,253.94 130.39,251.67 130.78,249.35 131.16,246.97 131.55,244.54 131.93,242.07 132.31,239.56 132.7,237.02 133.08,234.46 133.47,231.87 133.85,229.28 134.23,226.68 134.62,224.08 135,221.48 135.39,218.9 135.77,216.33 136.15,213.79 136.54,211.29 136.92,208.81 137.31,206.39 137.69,204.01 138.07,201.68 138.46,199.42 138.84,197.22 139.23,195.09 139.61,193.04 139.99,191.07 140.38,189.18 140.76,187.39 141.15,185.69 141.53,184.09 141.91,182.59 142.3,181.2 142.68,179.92 143.07,178.75 143.45,177.69 143.83,176.75 144.22,175.94 144.6,175.24 144.99,174.67 145.37,174.23 145.75,173.91 146.14,173.72 146.52,173.65 146.9,173.72 147.29,173.91 147.67,174.23 148.06,174.67 148.44,175.24 148.82,175.94 149.21,176.75 149.59,177.69 149.98,178.75 150.36,179.92 150.74,181.2 151.13,182.59 151.51,184.09 151.9,185.69 152.28,187.39 152.66,189.18 153.05,191.07 153.43,193.04 153.82,195.09 154.2,197.22 154.58,199.42 154.97,201.68 155.35,204.01 155.74,206.39 156.12,208.81 156.5,211.29 156.89,213.79 157.27,216.33 157.66,218.9 158.04,221.48 158.42,224.08 158.81,226.68 159.19,229.28 159.58,231.87 159.96,234.46 160.34,237.02 160.73,239.56 161.11,242.07 161.5,244.54 161.88,246.97 162.26,249.35 162.65,251.67 163.03,253.94 163.42,256.14 163.8,258.26 164.18,260.31 164.57,262.29 164.95,264.17 165.34,265.96 165.72,267.66 166.1,269.27 166.49,270.76 166.87,272.16 167.26,273.44 167.64,274.61 168.02,275.66 168.41,276.6 168.79,277.42 169.18,278.11 169.56,278.68 169.94,279.13 170.33,279.44 170.71,279.64 171.1,279.7" class="bl bz"/></g><g clip-path="url(#c3a)"><polyline points="23.65,279.7 24.03,279.64 24.41,279.44 24.8,279.13 25.18,278.68 25.57,278.11 25.95,277.42 26.33,276.6 26.72,275.66 27.1,274.61 27.49,273.44 27.87,272.16 28.25,270.76 28.64,269.27 29.02,267.66 29.41,265.96 29.79,264.17 30.17,262.29 30.56,260.31 30.94,258.26 31.33,256.14 31.71,253.94 32.09,251.67 32.48,249.35 32.86,246.97 33.25,244.54 33.63,242.07 34.01,239.56 34.4,237.02 34.78,234.46 35.17,231.87 35.55,229.28 35.93,226.68 36.32,224.08 36.7,221.48 37.09,218.9 37.47,216.33 37.85,213.79 38.24,211.29 38.62,208.81 39.01,206.39 39.39,204.01 39.77,201.68 40.16,199.42 40.54,197.22 40.93,195.09 41.31,193.04 41.69,191.07 42.08,189.18 42.46,187.39 42.85,185.69 43.23,184.09 43.61,182.59 44,181.2 44.38,179.92 44.77,178.75 45.15,177.69 45.53,176.75 45.92,175.94 46.3,175.24 46.69,174.67 47.07,174.23 47.45,173.91 47.84,173.72 48.22,173.65 48.6,173.72 48.99,173.91 49.37,174.23 49.76,174.67 50.14,175.24 50.52,175.94 50.91,176.75 51.29,177.69 51.68,178.75 52.06,179.92 52.44,181.2 52.83,182.59 53.21,184.09 53.6,185.69 53.98,187.39 54.36,189.18 54.75,191.07 55.13,193.04 55.52,195.09 55.9,197.22 56.28,199.42 56.67,201.68 57.05,204.01 57.44,206.39 57.82,208.81 58.2,211.29 58.59,213.79 58.97,216.33 59.36,218.9 59.74,221.48 60.12,224.08 60.51,226.68 60.89,229.28 61.28,231.87 61.66,234.46 62.04,237.02 62.43,239.56 62.81,242.07 63.2,244.54 63.58,246.97 63.96,249.35 64.35,251.67 64.73,253.94 65.12,256.14 65.5,258.26 65.88,260.31 66.27,262.29 66.65,264.17 67.04,265.96 67.42,267.66 67.8,269.27 68.19,270.76 68.57,272.16 68.96,273.44 69.34,274.61 69.72,275.66 70.11,276.6 70.49,277.42 70.88,278.11 71.26,278.68 71.64,279.13 72.03,279.44 72.41,279.64 72.8,279.7 171.1,279.7" class="bl"/><polyline points="23.65,279.7 48.22,279.7 48.6,279.64 48.99,279.44 49.37,279.13 49.76,278.68 50.14,278.11 50.52,277.42 50.91,276.6 51.29,275.66 51.68,274.61 52.06,273.44 52.44,272.16 52.83,270.76 53.21,269.27 53.6,267.66 53.98,265.96 54.36,264.17 54.75,262.29 55.13,260.31 55.52,258.26 55.9,256.14 56.28,253.94 56.67,251.67 57.05,249.35 57.44,246.97 57.82,244.54 58.2,242.07 58.59,239.56 58.97,237.02 59.36,234.46 59.74,231.87 60.12,229.28 60.51,226.68 60.89,224.08 61.28,221.48 61.66,218.9 62.04,216.33 62.43,213.79 62.81,211.29 63.2,208.81 63.58,206.39 63.96,204.01 64.35,201.68 64.73,199.42 65.12,197.22 65.5,195.09 65.88,193.04 66.27,191.07 66.65,189.18 67.04,187.39 67.42,185.69 67.8,184.09 68.19,182.59 68.57,181.2 68.96,179.92 69.34,178.75 69.72,177.69 70.11,176.75 70.49,175.94 70.88,175.24 71.26,174.67 71.64,174.23 72.03,173.91 72.41,173.72 72.8,173.65 73.18,173.72 73.56,173.91 73.95,174.23 74.33,174.67 74.72,175.24 75.1,175.94 75.48,176.75 75.87,177.69 76.25,178.75 76.64,179.92 77.02,181.2 77.4,182.59 77.79,184.09 78.17,185.69 78.56,187.39 78.94,189.18 79.32,191.07 79.71,193.04 80.09,195.09 80.48,197.22 80.86,199.42 81.24,201.68 81.63,204.01 82.01,206.39 82.4,208.81 82.78,211.29 83.16,213.79 83.55,216.33 83.93,218.9 84.32,221.48 84.7,224.08 85.08,226.68 85.47,229.28 85.85,231.87 86.24,234.46 86.62,237.02 87,239.56 87.39,242.07 87.77,244.54 88.16,246.97 88.54,249.35 88.92,251.67 89.31,253.94 89.69,256.14 90.08,258.26 90.46,260.31 90.84,262.29 91.23,264.17 91.61,265.96 92,267.66 92.38,269.27 92.76,270.76 93.15,272.16 93.53,273.44 93.92,274.61 94.3,275.66 94.68,276.6 95.07,277.42 95.45,278.11 95.84,278.68 96.22,279.13 96.6,279.44 96.99,279.64 97.37,279.7 171.1,279.7" class="bl"/><polyline points="23.65,279.7 72.8,279.7 73.18,279.64 73.56,279.44 73.95,279.13 74.33,278.68 74.72,278.11 75.1,277.42 75.48,276.6 75.87,275.66 76.25,274.61 76.64,273.44 77.02,272.16 77.4,270.76 77.79,269.27 78.17,267.66 78.56,265.96 78.94,264.17 79.32,262.29 79.71,260.31 80.09,258.26 80.48,256.14 80.86,253.94 81.24,251.67 81.63,249.35 82.01,246.97 82.4,244.54 82.78,242.07 83.16,239.56 83.55,237.02 83.93,234.46 84.32,231.87 84.7,229.28 85.08,226.68 85.47,224.08 85.85,221.48 86.24,218.9 86.62,216.33 87,213.79 87.39,211.29 87.77,208.81 88.16,206.39 88.54,204.01 88.92,201.68 89.31,199.42 89.69,197.22 90.08,195.09 90.46,193.04 90.84,191.07 91.23,189.18 91.61,187.39 92,185.69 92.38,184.09 92.76,182.59 93.15,181.2 93.53,179.92 93.92,178.75 94.3,177.69 94.68,176.75 95.07,175.94 95.45,175.24 95.84,174.67 96.22,174.23 96.6,173.91 96.99,173.72 97.37,173.65 97.75,173.72 98.14,173.91 98.52,174.23 98.91,174.67 99.29,175.24 99.67,175.94 100.06,176.75 100.44,177.69 100.83,178.75 101.21,179.92 101.59,181.2 101.98,182.59 102.36,184.09 102.75,185.69 103.13,187.39 103.51,189.18 103.9,191.07 104.28,193.04 104.67,195.09 105.05,197.22 105.43,199.42 105.82,201.68 106.2,204.01 106.59,206.39 106.97,208.81 107.35,211.29 107.74,213.79 108.12,216.33 108.51,218.9 108.89,221.48 109.27,224.08 109.66,226.68 110.04,229.28 110.43,231.87 110.81,234.46 111.19,237.02 111.58,239.56 111.96,242.07 112.35,244.54 112.73,246.97 113.11,249.35 113.5,251.67 113.88,253.94 114.27,256.14 114.65,258.26 115.03,260.31 115.42,262.29 115.8,264.17 116.19,265.96 116.57,267.66 116.95,269.27 117.34,270.76 117.72,272.16 118.11,273.44 118.49,274.61 118.87,275.66 119.26,276.6 119.64,277.42 120.03,278.11 120.41,278.68 120.79,279.13 121.18,279.44 121.56,279.64 121.95,279.7 171.1,279.7" class="bl"/><polyline points="23.65,279.7 97.37,279.7 97.75,279.64 98.14,279.44 98.52,279.13 98.91,278.68 99.29,278.11 99.67,277.42 100.06,276.6 100.44,275.66 100.83,274.61 101.21,273.44 101.59,272.16 101.98,270.76 102.36,269.27 102.75,267.66 103.13,265.96 103.51,264.17 103.9,262.29 104.28,260.31 104.67,258.26 105.05,256.14 105.43,253.94 105.82,251.67 106.2,249.35 106.59,246.97 106.97,244.54 107.35,242.07 107.74,239.56 108.12,237.02 108.51,234.46 108.89,231.87 109.27,229.28 109.66,226.68 110.04,224.08 110.43,221.48 110.81,218.9 111.19,216.33 111.58,213.79 111.96,211.29 112.35,208.81 112.73,206.39 113.11,204.01 113.5,201.68 113.88,199.42 114.27,197.22 114.65,195.09 115.03,193.04 115.42,191.07 115.8,189.18 116.19,187.39 116.57,185.69 116.95,184.09 117.34,182.59 117.72,181.2 118.11,179.92 118.49,178.75 118.87,177.69 119.26,176.75 119.64,175.94 120.03,175.24 120.41,174.67 120.79,174.23 121.18,173.91 121.56,173.72 121.95,173.65 122.33,173.72 122.71,173.91 123.1,174.23 123.48,174.67 123.87,175.24 124.25,175.94 124.63,176.75 125.02,177.69 125.4,178.75 125.79,179.92 126.17,181.2 126.55,182.59 126.94,184.09 127.32,185.69 127.71,187.39 128.09,189.18 128.47,191.07 128.86,193.04 129.24,195.09 129.63,197.22 130.01,199.42 130.39,201.68 130.78,204.01 131.16,206.39 131.55,208.81 131.93,211.29 132.31,213.79 132.7,216.33 133.08,218.9 133.47,221.48 133.85,224.08 134.23,226.68 134.62,229.28 135,231.87 135.39,234.46 135.77,237.02 136.15,239.56 136.54,242.07 136.92,244.54 137.31,246.97 137.69,249.35 138.07,251.67 138.46,253.94 138.84,256.14 139.23,258.26 139.61,260.31 139.99,262.29 140.38,264.17 140.76,265.96 141.15,267.66 141.53,269.27 141.91,270.76 142.3,272.16 142.68,273.44 143.07,274.61 143.45,275.66 143.83,276.6 144.22,277.42 144.6,278.11 144.99,278.68 145.37,279.13 145.75,279.44 146.14,279.64 146.52,279.7 171.1,279.7" class="bl"/><polyline points="23.65,279.7 121.95,279.7 122.33,279.64 122.71,279.44 123.1,279.13 123.48,278.68 123.87,278.11 124.25,277.42 124.63,276.6 125.02,275.66 125.4,274.61 125.79,273.44 126.17,272.16 126.55,270.76 126.94,269.27 127.32,267.66 127.71,265.96 128.09,264.17 128.47,262.29 128.86,260.31 129.24,258.26 129.63,256.14 130.01,253.94 130.39,251.67 130.78,249.35 131.16,246.97 131.55,244.54 131.93,242.07 132.31,239.56 132.7,237.02 133.08,234.46 133.47,231.87 133.85,229.28 134.23,226.68 134.62,224.08 135,221.48 135.39,218.9 135.77,216.33 136.15,213.79 136.54,211.29 136.92,208.81 137.31,206.39 137.69,204.01 138.07,201.68 138.46,199.42 138.84,197.22 139.23,195.09 139.61,193.04 139.99,191.07 140.38,189.18 140.76,187.39 141.15,185.69 141.53,184.09 141.91,182.59 142.3,181.2 142.68,179.92 143.07,178.75 143.45,177.69 143.83,176.75 144.22,175.94 144.6,175.24 144.99,174.67 145.37,174.23 145.75,173.91 146.14,173.72 146.52,173.65 146.9,173.72 147.29,173.91 147.67,174.23 148.06,174.67 148.44,175.24 148.82,175.94 149.21,176.75 149.59,177.69 149.98,178.75 150.36,179.92 150.74,181.2 151.13,182.59 151.51,184.09 151.9,185.69 152.28,187.39 152.66,189.18 153.05,191.07 153.43,193.04 153.82,195.09 154.2,197.22 154.58,199.42 154.97,201.68 155.35,204.01 155.74,206.39 156.12,208.81 156.5,211.29 156.89,213.79 157.27,216.33 157.66,218.9 158.04,221.48 158.42,224.08 158.81,226.68 159.19,229.28 159.58,231.87 159.96,234.46 160.34,237.02 160.73,239.56 161.11,242.07 161.5,244.54 161.88,246.97 162.26,249.35 162.65,251.67 163.03,253.94 163.42,256.14 163.8,258.26 164.18,260.31 164.57,262.29 164.95,264.17 165.34,265.96 165.72,267.66 166.1,269.27 166.49,270.76 166.87,272.16 167.26,273.44 167.64,274.61 168.02,275.66 168.41,276.6 168.79,277.42 169.18,278.11 169.56,278.68 169.94,279.13 170.33,279.44 170.71,279.64 171.1,279.7" class="bl"/></g><polyline points="23.65,279.7 24.03,279.64 24.41,279.44 24.8,279.13 25.18,278.68 25.57,278.11 25.95,277.42 26.33,276.6 26.72,275.66 27.1,274.61 27.49,273.44 27.87,272.16 28.25,270.76 28.64,269.27 29.02,267.66 29.41,265.96 29.79,264.17 30.17,262.29 30.56,260.31 30.94,258.26 31.33,256.14 31.71,253.94 32.09,251.67 32.48,249.35 32.86,246.97 33.25,244.54 33.63,242.07 34.01,239.56 34.4,237.02 34.78,234.46 35.17,231.87 35.55,229.28 35.93,226.68 36.32,224.08 36.7,221.48 37.09,218.9 37.47,216.33 37.85,213.79 38.24,211.29 38.62,208.81 39.01,206.39 39.39,204.01 39.77,201.68 40.16,199.42 40.54,197.22 40.93,195.09 41.31,193.04 41.69,191.07 42.08,189.18 42.46,187.39 42.85,185.69 43.23,184.09 43.61,182.59 44,181.2 44.38,179.92 44.77,178.75 45.15,177.69 45.53,176.75 45.92,175.94 46.3,175.24 46.69,174.67 47.07,174.23 47.45,173.91 47.84,173.72 48.22,173.65 48.6,173.65 48.99,173.65 49.37,173.65 49.76,173.65 50.14,173.65 50.52,173.65 50.91,173.65 51.29,173.65 51.68,173.65 52.06,173.65 52.44,173.65 52.83,173.65 53.21,173.65 53.6,173.65 53.98,173.65 54.36,173.65 54.75,173.65 55.13,173.65 55.52,173.65 55.9,173.65 56.28,173.65 56.67,173.65 57.05,173.65 57.44,173.65 57.82,173.65 58.2,173.65 58.59,173.65 58.97,173.65 59.36,173.65 59.74,173.65 60.12,173.65 60.51,173.65 60.89,173.65 61.28,173.65 61.66,173.65 62.04,173.65 62.43,173.65 62.81,173.65 63.2,173.65 63.58,173.65 63.96,173.65 64.35,173.65 64.73,173.65 65.12,173.65 65.5,173.65 65.88,173.65 66.27,173.65 66.65,173.65 67.04,173.65 67.42,173.65 67.8,173.65 68.19,173.65 68.57,173.65 68.96,173.65 69.34,173.65 69.72,173.65 70.11,173.65 70.49,173.65 70.88,173.65 71.26,173.65 71.64,173.65 72.03,173.65 72.41,173.65 72.8,173.65 73.18,173.65 73.56,173.65 73.95,173.65 74.33,173.65 74.72,173.65 75.1,173.65 75.48,173.65 75.87,173.65 76.25,173.65 76.64,173.65 77.02,173.65 77.4,173.65 77.79,173.65 78.17,173.65 78.56,173.65 78.94,173.65 79.32,173.65 79.71,173.65 80.09,173.65 80.48,173.65 80.86,173.65 81.24,173.65 81.63,173.65 82.01,173.65 82.4,173.65 82.78,173.65 83.16,173.65 83.55,173.65 83.93,173.65 84.32,173.65 84.7,173.65 85.08,173.65 85.47,173.65 85.85,173.65 86.24,173.65 86.62,173.65 87,173.65 87.39,173.65 87.77,173.65 88.16,173.65 88.54,173.65 88.92,173.65 89.31,173.65 89.69,173.65 90.08,173.65 90.46,173.65 90.84,173.65 91.23,173.65 91.61,173.65 92,173.65 92.38,173.65 92.76,173.65 93.15,173.65 93.53,173.65 93.92,173.65 94.3,173.65 94.68,173.65 95.07,173.65 95.45,173.65 95.84,173.65 96.22,173.65 96.6,173.65 96.99,173.65 97.37,173.65 97.75,173.65 98.14,173.65 98.52,173.65 98.91,173.65 99.29,173.65 99.67,173.65 100.06,173.65 100.44,173.65 100.83,173.65 101.21,173.65 101.59,173.65 101.98,173.65 102.36,173.65 102.75,173.65 103.13,173.65 103.51,173.65 103.9,173.65 104.28,173.65 104.67,173.65 105.05,173.65 105.43,173.65 105.82,173.65 106.2,173.65 106.59,173.65 106.97,173.65 107.35,173.65 107.74,173.65 108.12,173.65 108.51,173.65 108.89,173.65 109.27,173.65 109.66,173.65 110.04,173.65 110.43,173.65 110.81,173.65 111.19,173.65 111.58,173.65 111.96,173.65 112.35,173.65 112.73,173.65 113.11,173.65 113.5,173.65 113.88,173.65 114.27,173.65 114.65,173.65 115.03,173.65 115.42,173.65 115.8,173.65 116.19,173.65 116.57,173.65 116.95,173.65 117.34,173.65 117.72,173.65 118.11,173.65 118.49,173.65 118.87,173.65 119.26,173.65 119.64,173.65 120.03,173.65 120.41,173.65 120.79,173.65 121.18,173.65 121.56,173.65 121.95,173.65 122.33,173.65 122.71,173.65 123.1,173.65 123.48,173.65 123.87,173.65 124.25,173.65 124.63,173.65 125.02,173.65 125.4,173.65 125.79,173.65 126.17,173.65 126.55,173.65 126.94,173.65 127.32,173.65 127.71,173.65 128.09,173.65 128.47,173.65 128.86,173.65 129.24,173.65 129.63,173.65 130.01,173.65 130.39,173.65 130.78,173.65 131.16,173.65 131.55,173.65 131.93,173.65 132.31,173.65 132.7,173.65 133.08,173.65 133.47,173.65 133.85,173.65 134.23,173.65 134.62,173.65 135,173.65 135.39,173.65 135.77,173.65 136.15,173.65 136.54,173.65 136.92,173.65 137.31,173.65 137.69,173.65 138.07,173.65 138.46,173.65 138.84,173.65 139.23,173.65 139.61,173.65 139.99,173.65 140.38,173.65 140.76,173.65 141.15,173.65 141.53,173.65 141.91,173.65 142.3,173.65 142.68,173.65 143.07,173.65 143.45,173.65 143.83,173.65 144.22,173.65 144.6,173.65 144.99,173.65 145.37,173.65 145.75,173.65 146.14,173.65 146.52,173.65 146.9,173.72 147.29,173.91 147.67,174.23 148.06,174.67 148.44,175.24 148.82,175.94 149.21,176.75 149.59,177.69 149.98,178.75 150.36,179.92 150.74,181.2 151.13,182.59 151.51,184.09 151.9,185.69 152.28,187.39 152.66,189.18 153.05,191.07 153.43,193.04 153.82,195.09 154.2,197.22 154.58,199.42 154.97,201.68 155.35,204.01 155.74,206.39 156.12,208.81 156.5,211.29 156.89,213.79 157.27,216.33 157.66,218.9 158.04,221.48 158.42,224.08 158.81,226.68 159.19,229.28 159.58,231.87 159.96,234.46 160.34,237.02 160.73,239.56 161.11,242.07 161.5,244.54 161.88,246.97 162.26,249.35 162.65,251.67 163.03,253.94 163.42,256.14 163.8,258.26 164.18,260.31 164.57,262.29 164.95,264.17 165.34,265.96 165.72,267.66 166.1,269.27 166.49,270.76 166.87,272.16 167.26,273.44 167.64,274.61 168.02,275.66 168.41,276.6 168.79,277.42 169.18,278.11 169.56,278.68 169.94,279.13 170.33,279.44 170.71,279.64 171.1,279.7" class="rd" clip-path="url(#c3r)"/></g><g><rect x="208" y="164.4" width="147.55" height="116" class="ax"/><path d="M208 280.4v-2.0M208 164.4v2.0" class="tk"/><path d="M232.59 280.4v-2.0M232.59 164.4v2.0" class="tk"/><path d="M257.18 280.4v-2.0M257.18 164.4v2.0" class="tk"/><path d="M281.77 280.4v-2.0M281.77 164.4v2.0" class="tk"/><path d="M306.37 280.4v-2.0M306.37 164.4v2.0" class="tk"/><path d="M330.96 280.4v-2.0M330.96 164.4v2.0" class="tk"/><path d="M355.55 280.4v-2.0M355.55 164.4v2.0" class="tk"/><path d="M208 280.4h2.0M355.55 280.4h-2.0" class="tk"/><path d="M208 259.31h2.0M355.55 259.31h-2.0" class="tk"/><path d="M208 238.22h2.0M355.55 238.22h-2.0" class="tk"/><path d="M208 217.13h2.0M355.55 217.13h-2.0" class="tk"/><path d="M208 196.04h2.0M355.55 196.04h-2.0" class="tk"/><path d="M208 174.95h2.0M355.55 174.95h-2.0" class="tk"/><clipPath id="c4a"><rect x="208" y="162.4" width="147.55" height="116.6"/></clipPath><clipPath id="c4b"><rect x="208" y="279" width="147.55" height="3"/></clipPath><clipPath id="c4r"><rect x="208" y="161.4" width="147.55" height="122"/></clipPath><line x1="208" y1="280.4" x2="355.55" y2="280.4" class="bo"/><g clip-path="url(#c4b)"><polyline points="208.06,280.4 208.55,280.3 209.05,279.98 209.54,279.47 210.03,278.74 210.52,277.82 211.01,276.7 211.5,275.38 212,273.88 212.49,272.19 212.98,270.33 213.47,268.3 213.96,266.11 214.46,263.77 214.95,261.28 215.44,258.67 215.93,255.93 216.42,253.07 216.91,250.12 217.41,247.08 217.9,243.97 218.39,240.79 218.88,237.55 219.37,234.28 219.87,230.98 220.36,227.67 220.85,224.36 221.34,221.06 221.83,217.79 222.32,214.56 222.82,211.38 223.31,208.26 223.8,205.22 224.29,202.27 224.78,199.42 225.28,196.68 225.77,194.06 226.26,191.58 226.75,189.24 227.24,187.05 227.73,185.02 228.23,183.15 228.72,181.47 229.21,179.96 229.7,178.65 230.19,177.53 230.69,176.6 231.18,175.88 231.67,175.36 232.16,175.05 232.65,174.95 233.14,175.05 233.64,175.36 234.13,175.88 234.62,176.6 235.11,177.53 235.6,178.65 236.1,179.96 236.59,181.47 237.08,183.15 237.57,185.02 238.06,187.05 238.56,189.24 239.05,191.58 239.54,194.06 240.03,196.68 240.52,199.42 241.01,202.27 241.51,205.22 242,208.26 242.49,211.38 242.98,214.56 243.47,217.79 243.97,221.06 244.46,224.36 244.95,227.67 245.44,230.98 245.93,234.28 246.42,237.55 246.92,240.79 247.41,243.97 247.9,247.08 248.39,250.12 248.88,253.07 249.38,255.93 249.87,258.67 250.36,261.28 250.85,263.77 251.34,266.11 251.83,268.3 252.33,270.33 252.82,272.19 253.31,273.88 253.8,275.38 254.29,276.7 254.79,277.82 255.28,278.74 255.77,279.47 256.26,279.98 256.75,280.3 257.24,280.4 355.61,280.4" class="bl bz"/><polyline points="208.06,280.4 232.65,280.4 233.14,280.3 233.64,279.98 234.13,279.47 234.62,278.74 235.11,277.82 235.6,276.7 236.1,275.38 236.59,273.88 237.08,272.19 237.57,270.33 238.06,268.3 238.56,266.11 239.05,263.77 239.54,261.28 240.03,258.67 240.52,255.93 241.01,253.07 241.51,250.12 242,247.08 242.49,243.97 242.98,240.79 243.47,237.55 243.97,234.28 244.46,230.98 244.95,227.67 245.44,224.36 245.93,221.06 246.42,217.79 246.92,214.56 247.41,211.38 247.9,208.26 248.39,205.22 248.88,202.27 249.38,199.42 249.87,196.68 250.36,194.06 250.85,191.58 251.34,189.24 251.83,187.05 252.33,185.02 252.82,183.15 253.31,181.47 253.8,179.96 254.29,178.65 254.79,177.53 255.28,176.6 255.77,175.88 256.26,175.36 256.75,175.05 257.24,174.95 257.74,175.05 258.23,175.36 258.72,175.88 259.21,176.6 259.7,177.53 260.2,178.65 260.69,179.96 261.18,181.47 261.67,183.15 262.16,185.02 262.65,187.05 263.15,189.24 263.64,191.58 264.13,194.06 264.62,196.68 265.11,199.42 265.61,202.27 266.1,205.22 266.59,208.26 267.08,211.38 267.57,214.56 268.07,217.79 268.56,221.06 269.05,224.36 269.54,227.67 270.03,230.98 270.52,234.28 271.02,237.55 271.51,240.79 272,243.97 272.49,247.08 272.98,250.12 273.48,253.07 273.97,255.93 274.46,258.67 274.95,261.28 275.44,263.77 275.93,266.11 276.43,268.3 276.92,270.33 277.41,272.19 277.9,273.88 278.39,275.38 278.89,276.7 279.38,277.82 279.87,278.74 280.36,279.47 280.85,279.98 281.34,280.3 281.84,280.4 355.61,280.4" class="bl bz"/><polyline points="208.06,280.4 257.24,280.4 257.74,280.3 258.23,279.98 258.72,279.47 259.21,278.74 259.7,277.82 260.2,276.7 260.69,275.38 261.18,273.88 261.67,272.19 262.16,270.33 262.65,268.3 263.15,266.11 263.64,263.77 264.13,261.28 264.62,258.67 265.11,255.93 265.61,253.07 266.1,250.12 266.59,247.08 267.08,243.97 267.57,240.79 268.07,237.55 268.56,234.28 269.05,230.98 269.54,227.67 270.03,224.36 270.52,221.06 271.02,217.79 271.51,214.56 272,211.38 272.49,208.26 272.98,205.22 273.48,202.27 273.97,199.42 274.46,196.68 274.95,194.06 275.44,191.58 275.93,189.24 276.43,187.05 276.92,185.02 277.41,183.15 277.9,181.47 278.39,179.96 278.89,178.65 279.38,177.53 279.87,176.6 280.36,175.88 280.85,175.36 281.34,175.05 281.84,174.95 282.33,175.05 282.82,175.36 283.31,175.88 283.8,176.6 284.3,177.53 284.79,178.65 285.28,179.96 285.77,181.47 286.26,183.15 286.75,185.02 287.25,187.05 287.74,189.24 288.23,191.58 288.72,194.06 289.21,196.68 289.71,199.42 290.2,202.27 290.69,205.22 291.18,208.26 291.67,211.38 292.16,214.56 292.66,217.79 293.15,221.06 293.64,224.36 294.13,227.67 294.62,230.98 295.12,234.28 295.61,237.55 296.1,240.79 296.59,243.97 297.08,247.08 297.58,250.12 298.07,253.07 298.56,255.93 299.05,258.67 299.54,261.28 300.03,263.77 300.53,266.11 301.02,268.3 301.51,270.33 302,272.19 302.49,273.88 302.99,275.38 303.48,276.7 303.97,277.82 304.46,278.74 304.95,279.47 305.44,279.98 305.94,280.3 306.43,280.4 355.61,280.4" class="bl bz"/><polyline points="208.06,280.4 281.84,280.4 282.33,280.3 282.82,279.98 283.31,279.47 283.8,278.74 284.3,277.82 284.79,276.7 285.28,275.38 285.77,273.88 286.26,272.19 286.75,270.33 287.25,268.3 287.74,266.11 288.23,263.77 288.72,261.28 289.21,258.67 289.71,255.93 290.2,253.07 290.69,250.12 291.18,247.08 291.67,243.97 292.16,240.79 292.66,237.55 293.15,234.28 293.64,230.98 294.13,227.67 294.62,224.36 295.12,221.06 295.61,217.79 296.1,214.56 296.59,211.38 297.08,208.26 297.58,205.22 298.07,202.27 298.56,199.42 299.05,196.68 299.54,194.06 300.03,191.58 300.53,189.24 301.02,187.05 301.51,185.02 302,183.15 302.49,181.47 302.99,179.96 303.48,178.65 303.97,177.53 304.46,176.6 304.95,175.88 305.44,175.36 305.94,175.05 306.43,174.95 306.92,175.05 307.41,175.36 307.9,175.88 308.4,176.6 308.89,177.53 309.38,178.65 309.87,179.96 310.36,181.47 310.85,183.15 311.35,185.02 311.84,187.05 312.33,189.24 312.82,191.58 313.31,194.06 313.81,196.68 314.3,199.42 314.79,202.27 315.28,205.22 315.77,208.26 316.26,211.38 316.76,214.56 317.25,217.79 317.74,221.06 318.23,224.36 318.72,227.67 319.22,230.98 319.71,234.28 320.2,237.55 320.69,240.79 321.18,243.97 321.67,247.08 322.17,250.12 322.66,253.07 323.15,255.93 323.64,258.67 324.13,261.28 324.63,263.77 325.12,266.11 325.61,268.3 326.1,270.33 326.59,272.19 327.09,273.88 327.58,275.38 328.07,276.7 328.56,277.82 329.05,278.74 329.54,279.47 330.04,279.98 330.53,280.3 331.02,280.4 355.61,280.4" class="bl bz"/><polyline points="208.06,280.4 306.43,280.4 306.92,280.3 307.41,279.98 307.9,279.47 308.4,278.74 308.89,277.82 309.38,276.7 309.87,275.38 310.36,273.88 310.85,272.19 311.35,270.33 311.84,268.3 312.33,266.11 312.82,263.77 313.31,261.28 313.81,258.67 314.3,255.93 314.79,253.07 315.28,250.12 315.77,247.08 316.26,243.97 316.76,240.79 317.25,237.55 317.74,234.28 318.23,230.98 318.72,227.67 319.22,224.36 319.71,221.06 320.2,217.79 320.69,214.56 321.18,211.38 321.67,208.26 322.17,205.22 322.66,202.27 323.15,199.42 323.64,196.68 324.13,194.06 324.63,191.58 325.12,189.24 325.61,187.05 326.1,185.02 326.59,183.15 327.09,181.47 327.58,179.96 328.07,178.65 328.56,177.53 329.05,176.6 329.54,175.88 330.04,175.36 330.53,175.05 331.02,174.95 331.51,175.05 332,175.36 332.5,175.88 332.99,176.6 333.48,177.53 333.97,178.65 334.46,179.96 334.95,181.47 335.45,183.15 335.94,185.02 336.43,187.05 336.92,189.24 337.41,191.58 337.91,194.06 338.4,196.68 338.89,199.42 339.38,202.27 339.87,205.22 340.36,208.26 340.86,211.38 341.35,214.56 341.84,217.79 342.33,221.06 342.82,224.36 343.32,227.67 343.81,230.98 344.3,234.28 344.79,237.55 345.28,240.79 345.77,243.97 346.27,247.08 346.76,250.12 347.25,253.07 347.74,255.93 348.23,258.67 348.73,261.28 349.22,263.77 349.71,266.11 350.2,268.3 350.69,270.33 351.18,272.19 351.68,273.88 352.17,275.38 352.66,276.7 353.15,277.82 353.64,278.74 354.14,279.47 354.63,279.98 355.12,280.3 355.61,280.4" class="bl bz"/></g><g clip-path="url(#c4a)"><polyline points="208.06,280.4 208.55,280.3 209.05,279.98 209.54,279.47 210.03,278.74 210.52,277.82 211.01,276.7 211.5,275.38 212,273.88 212.49,272.19 212.98,270.33 213.47,268.3 213.96,266.11 214.46,263.77 214.95,261.28 215.44,258.67 215.93,255.93 216.42,253.07 216.91,250.12 217.41,247.08 217.9,243.97 218.39,240.79 218.88,237.55 219.37,234.28 219.87,230.98 220.36,227.67 220.85,224.36 221.34,221.06 221.83,217.79 222.32,214.56 222.82,211.38 223.31,208.26 223.8,205.22 224.29,202.27 224.78,199.42 225.28,196.68 225.77,194.06 226.26,191.58 226.75,189.24 227.24,187.05 227.73,185.02 228.23,183.15 228.72,181.47 229.21,179.96 229.7,178.65 230.19,177.53 230.69,176.6 231.18,175.88 231.67,175.36 232.16,175.05 232.65,174.95 233.14,175.05 233.64,175.36 234.13,175.88 234.62,176.6 235.11,177.53 235.6,178.65 236.1,179.96 236.59,181.47 237.08,183.15 237.57,185.02 238.06,187.05 238.56,189.24 239.05,191.58 239.54,194.06 240.03,196.68 240.52,199.42 241.01,202.27 241.51,205.22 242,208.26 242.49,211.38 242.98,214.56 243.47,217.79 243.97,221.06 244.46,224.36 244.95,227.67 245.44,230.98 245.93,234.28 246.42,237.55 246.92,240.79 247.41,243.97 247.9,247.08 248.39,250.12 248.88,253.07 249.38,255.93 249.87,258.67 250.36,261.28 250.85,263.77 251.34,266.11 251.83,268.3 252.33,270.33 252.82,272.19 253.31,273.88 253.8,275.38 254.29,276.7 254.79,277.82 255.28,278.74 255.77,279.47 256.26,279.98 256.75,280.3 257.24,280.4 355.61,280.4" class="bl"/><polyline points="208.06,280.4 232.65,280.4 233.14,280.3 233.64,279.98 234.13,279.47 234.62,278.74 235.11,277.82 235.6,276.7 236.1,275.38 236.59,273.88 237.08,272.19 237.57,270.33 238.06,268.3 238.56,266.11 239.05,263.77 239.54,261.28 240.03,258.67 240.52,255.93 241.01,253.07 241.51,250.12 242,247.08 242.49,243.97 242.98,240.79 243.47,237.55 243.97,234.28 244.46,230.98 244.95,227.67 245.44,224.36 245.93,221.06 246.42,217.79 246.92,214.56 247.41,211.38 247.9,208.26 248.39,205.22 248.88,202.27 249.38,199.42 249.87,196.68 250.36,194.06 250.85,191.58 251.34,189.24 251.83,187.05 252.33,185.02 252.82,183.15 253.31,181.47 253.8,179.96 254.29,178.65 254.79,177.53 255.28,176.6 255.77,175.88 256.26,175.36 256.75,175.05 257.24,174.95 257.74,175.05 258.23,175.36 258.72,175.88 259.21,176.6 259.7,177.53 260.2,178.65 260.69,179.96 261.18,181.47 261.67,183.15 262.16,185.02 262.65,187.05 263.15,189.24 263.64,191.58 264.13,194.06 264.62,196.68 265.11,199.42 265.61,202.27 266.1,205.22 266.59,208.26 267.08,211.38 267.57,214.56 268.07,217.79 268.56,221.06 269.05,224.36 269.54,227.67 270.03,230.98 270.52,234.28 271.02,237.55 271.51,240.79 272,243.97 272.49,247.08 272.98,250.12 273.48,253.07 273.97,255.93 274.46,258.67 274.95,261.28 275.44,263.77 275.93,266.11 276.43,268.3 276.92,270.33 277.41,272.19 277.9,273.88 278.39,275.38 278.89,276.7 279.38,277.82 279.87,278.74 280.36,279.47 280.85,279.98 281.34,280.3 281.84,280.4 355.61,280.4" class="bl"/><polyline points="208.06,280.4 257.24,280.4 257.74,280.3 258.23,279.98 258.72,279.47 259.21,278.74 259.7,277.82 260.2,276.7 260.69,275.38 261.18,273.88 261.67,272.19 262.16,270.33 262.65,268.3 263.15,266.11 263.64,263.77 264.13,261.28 264.62,258.67 265.11,255.93 265.61,253.07 266.1,250.12 266.59,247.08 267.08,243.97 267.57,240.79 268.07,237.55 268.56,234.28 269.05,230.98 269.54,227.67 270.03,224.36 270.52,221.06 271.02,217.79 271.51,214.56 272,211.38 272.49,208.26 272.98,205.22 273.48,202.27 273.97,199.42 274.46,196.68 274.95,194.06 275.44,191.58 275.93,189.24 276.43,187.05 276.92,185.02 277.41,183.15 277.9,181.47 278.39,179.96 278.89,178.65 279.38,177.53 279.87,176.6 280.36,175.88 280.85,175.36 281.34,175.05 281.84,174.95 282.33,175.05 282.82,175.36 283.31,175.88 283.8,176.6 284.3,177.53 284.79,178.65 285.28,179.96 285.77,181.47 286.26,183.15 286.75,185.02 287.25,187.05 287.74,189.24 288.23,191.58 288.72,194.06 289.21,196.68 289.71,199.42 290.2,202.27 290.69,205.22 291.18,208.26 291.67,211.38 292.16,214.56 292.66,217.79 293.15,221.06 293.64,224.36 294.13,227.67 294.62,230.98 295.12,234.28 295.61,237.55 296.1,240.79 296.59,243.97 297.08,247.08 297.58,250.12 298.07,253.07 298.56,255.93 299.05,258.67 299.54,261.28 300.03,263.77 300.53,266.11 301.02,268.3 301.51,270.33 302,272.19 302.49,273.88 302.99,275.38 303.48,276.7 303.97,277.82 304.46,278.74 304.95,279.47 305.44,279.98 305.94,280.3 306.43,280.4 355.61,280.4" class="bl"/><polyline points="208.06,280.4 281.84,280.4 282.33,280.3 282.82,279.98 283.31,279.47 283.8,278.74 284.3,277.82 284.79,276.7 285.28,275.38 285.77,273.88 286.26,272.19 286.75,270.33 287.25,268.3 287.74,266.11 288.23,263.77 288.72,261.28 289.21,258.67 289.71,255.93 290.2,253.07 290.69,250.12 291.18,247.08 291.67,243.97 292.16,240.79 292.66,237.55 293.15,234.28 293.64,230.98 294.13,227.67 294.62,224.36 295.12,221.06 295.61,217.79 296.1,214.56 296.59,211.38 297.08,208.26 297.58,205.22 298.07,202.27 298.56,199.42 299.05,196.68 299.54,194.06 300.03,191.58 300.53,189.24 301.02,187.05 301.51,185.02 302,183.15 302.49,181.47 302.99,179.96 303.48,178.65 303.97,177.53 304.46,176.6 304.95,175.88 305.44,175.36 305.94,175.05 306.43,174.95 306.92,175.05 307.41,175.36 307.9,175.88 308.4,176.6 308.89,177.53 309.38,178.65 309.87,179.96 310.36,181.47 310.85,183.15 311.35,185.02 311.84,187.05 312.33,189.24 312.82,191.58 313.31,194.06 313.81,196.68 314.3,199.42 314.79,202.27 315.28,205.22 315.77,208.26 316.26,211.38 316.76,214.56 317.25,217.79 317.74,221.06 318.23,224.36 318.72,227.67 319.22,230.98 319.71,234.28 320.2,237.55 320.69,240.79 321.18,243.97 321.67,247.08 322.17,250.12 322.66,253.07 323.15,255.93 323.64,258.67 324.13,261.28 324.63,263.77 325.12,266.11 325.61,268.3 326.1,270.33 326.59,272.19 327.09,273.88 327.58,275.38 328.07,276.7 328.56,277.82 329.05,278.74 329.54,279.47 330.04,279.98 330.53,280.3 331.02,280.4 355.61,280.4" class="bl"/><polyline points="208.06,280.4 306.43,280.4 306.92,280.3 307.41,279.98 307.9,279.47 308.4,278.74 308.89,277.82 309.38,276.7 309.87,275.38 310.36,273.88 310.85,272.19 311.35,270.33 311.84,268.3 312.33,266.11 312.82,263.77 313.31,261.28 313.81,258.67 314.3,255.93 314.79,253.07 315.28,250.12 315.77,247.08 316.26,243.97 316.76,240.79 317.25,237.55 317.74,234.28 318.23,230.98 318.72,227.67 319.22,224.36 319.71,221.06 320.2,217.79 320.69,214.56 321.18,211.38 321.67,208.26 322.17,205.22 322.66,202.27 323.15,199.42 323.64,196.68 324.13,194.06 324.63,191.58 325.12,189.24 325.61,187.05 326.1,185.02 326.59,183.15 327.09,181.47 327.58,179.96 328.07,178.65 328.56,177.53 329.05,176.6 329.54,175.88 330.04,175.36 330.53,175.05 331.02,174.95 331.51,175.05 332,175.36 332.5,175.88 332.99,176.6 333.48,177.53 333.97,178.65 334.46,179.96 334.95,181.47 335.45,183.15 335.94,185.02 336.43,187.05 336.92,189.24 337.41,191.58 337.91,194.06 338.4,196.68 338.89,199.42 339.38,202.27 339.87,205.22 340.36,208.26 340.86,211.38 341.35,214.56 341.84,217.79 342.33,221.06 342.82,224.36 343.32,227.67 343.81,230.98 344.3,234.28 344.79,237.55 345.28,240.79 345.77,243.97 346.27,247.08 346.76,250.12 347.25,253.07 347.74,255.93 348.23,258.67 348.73,261.28 349.22,263.77 349.71,266.11 350.2,268.3 350.69,270.33 351.18,272.19 351.68,273.88 352.17,275.38 352.66,276.7 353.15,277.82 353.64,278.74 354.14,279.47 354.63,279.98 355.12,280.3 355.61,280.4" class="bl"/></g><polyline points="208.06,280.4 208.55,280.3 209.05,279.98 209.54,279.47 210.03,278.74 210.52,277.82 211.01,276.7 211.5,275.38 212,273.88 212.49,272.19 212.98,270.33 213.47,268.3 213.96,266.11 214.46,263.77 214.95,261.28 215.44,258.67 215.93,255.93 216.42,253.07 216.91,250.12 217.41,247.08 217.9,243.97 218.39,240.79 218.88,237.55 219.37,234.28 219.87,230.98 220.36,227.67 220.85,224.36 221.34,221.06 221.83,217.79 222.32,214.56 222.82,211.38 223.31,208.26 223.8,205.22 224.29,202.27 224.78,199.42 225.28,196.68 225.77,194.06 226.26,191.58 226.75,189.24 227.24,187.05 227.73,185.02 228.23,183.15 228.72,181.47 229.21,179.96 229.7,178.65 230.19,177.53 230.69,176.6 231.18,175.88 231.67,175.36 232.16,175.05 232.65,174.95 233.14,174.95 233.64,174.95 234.13,174.95 234.62,174.95 235.11,174.95 235.6,174.95 236.1,174.95 236.59,174.95 237.08,174.95 237.57,174.95 238.06,174.95 238.56,174.95 239.05,174.95 239.54,174.95 240.03,174.95 240.52,174.95 241.01,174.95 241.51,174.95 242,174.95 242.49,174.95 242.98,174.95 243.47,174.95 243.97,174.95 244.46,174.95 244.95,174.95 245.44,174.95 245.93,174.95 246.42,174.95 246.92,174.95 247.41,174.95 247.9,174.95 248.39,174.95 248.88,174.95 249.38,174.95 249.87,174.95 250.36,174.95 250.85,174.95 251.34,174.95 251.83,174.95 252.33,174.95 252.82,174.95 253.31,174.95 253.8,174.95 254.29,174.95 254.79,174.95 255.28,174.95 255.77,174.95 256.26,174.95 256.75,174.95 257.24,174.95 257.74,174.95 258.23,174.95 258.72,174.95 259.21,174.95 259.7,174.95 260.2,174.95 260.69,174.95 261.18,174.95 261.67,174.95 262.16,174.95 262.65,174.95 263.15,174.95 263.64,174.95 264.13,174.95 264.62,174.95 265.11,174.95 265.61,174.95 266.1,174.95 266.59,174.95 267.08,174.95 267.57,174.95 268.07,174.95 268.56,174.95 269.05,174.95 269.54,174.95 270.03,174.95 270.52,174.95 271.02,174.95 271.51,174.95 272,174.95 272.49,174.95 272.98,174.95 273.48,174.95 273.97,174.95 274.46,174.95 274.95,174.95 275.44,174.95 275.93,174.95 276.43,174.95 276.92,174.95 277.41,174.95 277.9,174.95 278.39,174.95 278.89,174.95 279.38,174.95 279.87,174.95 280.36,174.95 280.85,174.95 281.34,174.95 281.84,174.95 282.33,174.95 282.82,174.95 283.31,174.95 283.8,174.95 284.3,174.95 284.79,174.95 285.28,174.95 285.77,174.95 286.26,174.95 286.75,174.95 287.25,174.95 287.74,174.95 288.23,174.95 288.72,174.95 289.21,174.95 289.71,174.95 290.2,174.95 290.69,174.95 291.18,174.95 291.67,174.95 292.16,174.95 292.66,174.95 293.15,174.95 293.64,174.95 294.13,174.95 294.62,174.95 295.12,174.95 295.61,174.95 296.1,174.95 296.59,174.95 297.08,174.95 297.58,174.95 298.07,174.95 298.56,174.95 299.05,174.95 299.54,174.95 300.03,174.95 300.53,174.95 301.02,174.95 301.51,174.95 302,174.95 302.49,174.95 302.99,174.95 303.48,174.95 303.97,174.95 304.46,174.95 304.95,174.95 305.44,174.95 305.94,174.95 306.43,174.95 306.92,174.95 307.41,174.95 307.9,174.95 308.4,174.95 308.89,174.95 309.38,174.95 309.87,174.95 310.36,174.95 310.85,174.95 311.35,174.95 311.84,174.95 312.33,174.95 312.82,174.95 313.31,174.95 313.81,174.95 314.3,174.95 314.79,174.95 315.28,174.95 315.77,174.95 316.26,174.95 316.76,174.95 317.25,174.95 317.74,174.95 318.23,174.95 318.72,174.95 319.22,174.95 319.71,174.95 320.2,174.95 320.69,174.95 321.18,174.95 321.67,174.95 322.17,174.95 322.66,174.95 323.15,174.95 323.64,174.95 324.13,174.95 324.63,174.95 325.12,174.95 325.61,174.95 326.1,174.95 326.59,174.95 327.09,174.95 327.58,174.95 328.07,174.95 328.56,174.95 329.05,174.95 329.54,174.95 330.04,174.95 330.53,174.95 331.02,174.95 331.51,175.05 332,175.36 332.5,175.88 332.99,176.6 333.48,177.53 333.97,178.65 334.46,179.96 334.95,181.47 335.45,183.15 335.94,185.02 336.43,187.05 336.92,189.24 337.41,191.58 337.91,194.06 338.4,196.68 338.89,199.42 339.38,202.27 339.87,205.22 340.36,208.26 340.86,211.38 341.35,214.56 341.84,217.79 342.33,221.06 342.82,224.36 343.32,227.67 343.81,230.98 344.3,234.28 344.79,237.55 345.28,240.79 345.77,243.97 346.27,247.08 346.76,250.12 347.25,253.07 347.74,255.93 348.23,258.67 348.73,261.28 349.22,263.77 349.71,266.11 350.2,268.3 350.69,270.33 351.18,272.19 351.68,273.88 352.17,275.38 352.66,276.7 353.15,277.82 353.64,278.74 354.14,279.47 354.63,279.98 355.12,280.3 355.61,280.4" class="rd" clip-path="url(#c4r)"/></g><g><rect x="393.05" y="162.55" width="148.95" height="117.65" class="ax"/><path d="M393.05 280.2v-2.0M393.05 162.55v2.0" class="tk"/><path d="M441.54 280.2v-2.0M441.54 162.55v2.0" class="tk"/><path d="M490.02 280.2v-2.0M490.02 162.55v2.0" class="tk"/><path d="M538.51 280.2v-2.0M538.51 162.55v2.0" class="tk"/><path d="M393.05 280.2h2.0M542 280.2h-2.0" class="tk"/><path d="M393.05 258.81h2.0M542 258.81h-2.0" class="tk"/><path d="M393.05 237.42h2.0M542 237.42h-2.0" class="tk"/><path d="M393.05 216.03h2.0M542 216.03h-2.0" class="tk"/><path d="M393.05 194.64h2.0M542 194.64h-2.0" class="tk"/><path d="M393.05 173.25h2.0M542 173.25h-2.0" class="tk"/><clipPath id="c5a"><rect x="393.05" y="160.55" width="148.95" height="118.45"/></clipPath><clipPath id="c5b"><rect x="393.05" y="279" width="148.95" height="3"/></clipPath><clipPath id="c5r"><rect x="393.05" y="159.55" width="148.95" height="123.65"/></clipPath><line x1="393.05" y1="280.2" x2="542" y2="280.2" class="bo"/><g clip-path="url(#c5b)"><polyline points="393.1,280.2 393.58,280.1 394.07,279.8 394.55,279.3 395.04,278.6 395.52,277.7 396.01,276.62 396.49,275.34 396.98,273.89 397.46,272.25 397.95,270.44 398.43,268.47 398.92,266.35 399.4,264.07 399.89,261.65 400.37,259.1 400.86,256.43 401.34,253.65 401.83,250.77 402.31,247.79 402.8,244.74 403.28,241.62 403.77,238.44 404.25,235.22 404.74,231.96 405.22,228.69 405.7,225.41 406.19,222.13 406.67,218.88 407.16,215.65 407.64,212.46 408.13,209.33 408.61,206.26 409.1,203.27 409.58,200.36 410.07,197.56 410.55,194.87 411.04,192.29 411.52,189.85 412.01,187.54 412.49,185.38 412.98,183.38 413.46,181.54 413.95,179.87 414.43,178.38 414.92,177.07 415.4,175.94 415.89,175.01 416.37,174.27 416.86,173.73 417.34,173.39 417.83,173.25 418.31,173.31 418.8,173.57 419.28,174.03 419.77,174.69 420.25,175.55 420.74,176.6 421.22,177.83 421.71,179.25 422.19,180.85 422.68,182.63 423.16,184.56 423.64,186.66 424.13,188.91 424.61,191.3 425.1,193.82 425.58,196.47 426.07,199.23 426.55,202.09 427.04,205.05 427.52,208.09 428.01,211.2 428.49,214.37 428.98,217.58 429.46,220.83 429.95,224.1 430.43,227.38 430.92,230.66 431.4,233.92 431.89,237.16 432.37,240.35 432.86,243.5 433.34,246.58 433.83,249.59 434.31,252.51 434.8,255.33 435.28,258.05 435.77,260.65 436.25,263.12 436.74,265.45 437.22,267.64 437.71,269.68 438.19,271.55 438.68,273.25 439.16,274.78 439.65,276.13 440.13,277.29 440.62,278.26 441.1,279.04 441.58,279.62 442.07,280 442.55,280.18 442.75,280.2 542.05,280.2" class="bl bz"/><polyline points="393.1,280.2 417.92,280.2 418.41,280.1 418.89,279.8 419.38,279.3 419.86,278.6 420.35,277.7 420.83,276.62 421.32,275.34 421.8,273.89 422.29,272.25 422.77,270.44 423.26,268.47 423.74,266.35 424.23,264.07 424.71,261.65 425.2,259.1 425.68,256.43 426.17,253.65 426.65,250.77 427.14,247.79 427.62,244.74 428.11,241.62 428.59,238.44 429.08,235.22 429.56,231.96 430.05,228.69 430.53,225.41 431.01,222.13 431.5,218.88 431.98,215.65 432.47,212.46 432.95,209.33 433.44,206.26 433.92,203.27 434.41,200.36 434.89,197.56 435.38,194.87 435.86,192.29 436.35,189.85 436.83,187.54 437.32,185.38 437.8,183.38 438.29,181.54 438.77,179.87 439.26,178.38 439.74,177.07 440.23,175.94 440.71,175.01 441.2,174.27 441.68,173.73 442.17,173.39 442.65,173.25 443.14,173.31 443.62,173.57 444.11,174.03 444.59,174.69 445.08,175.55 445.56,176.6 446.05,177.83 446.53,179.25 447.02,180.85 447.5,182.63 447.99,184.56 448.47,186.66 448.95,188.91 449.44,191.3 449.92,193.82 450.41,196.47 450.89,199.23 451.38,202.09 451.86,205.05 452.35,208.09 452.83,211.2 453.32,214.37 453.8,217.58 454.29,220.83 454.77,224.1 455.26,227.38 455.74,230.66 456.23,233.92 456.71,237.16 457.2,240.35 457.68,243.5 458.17,246.58 458.65,249.59 459.14,252.51 459.62,255.33 460.11,258.05 460.59,260.65 461.08,263.12 461.56,265.45 462.05,267.64 462.53,269.68 463.02,271.55 463.5,273.25 463.99,274.78 464.47,276.13 464.96,277.29 465.44,278.26 465.92,279.04 466.41,279.62 466.89,280 467.38,280.18 467.57,280.2 542.05,280.2" class="bl bz"/><polyline points="393.1,280.2 442.75,280.2 443.23,280.1 443.72,279.8 444.2,279.3 444.69,278.6 445.17,277.7 445.66,276.62 446.14,275.34 446.63,273.89 447.11,272.25 447.6,270.44 448.08,268.47 448.57,266.35 449.05,264.07 449.54,261.65 450.02,259.1 450.51,256.43 450.99,253.65 451.48,250.77 451.96,247.79 452.45,244.74 452.93,241.62 453.42,238.44 453.9,235.22 454.39,231.96 454.87,228.69 455.35,225.41 455.84,222.13 456.32,218.88 456.81,215.65 457.29,212.46 457.78,209.33 458.26,206.26 458.75,203.27 459.23,200.36 459.72,197.56 460.2,194.87 460.69,192.29 461.17,189.85 461.66,187.54 462.14,185.38 462.63,183.38 463.11,181.54 463.6,179.87 464.08,178.38 464.57,177.07 465.05,175.94 465.54,175.01 466.02,174.27 466.51,173.73 466.99,173.39 467.48,173.25 467.96,173.31 468.45,173.57 468.93,174.03 469.42,174.69 469.9,175.55 470.39,176.6 470.87,177.83 471.36,179.25 471.84,180.85 472.33,182.63 472.81,184.56 473.29,186.66 473.78,188.91 474.26,191.3 474.75,193.82 475.23,196.47 475.72,199.23 476.2,202.09 476.69,205.05 477.17,208.09 477.66,211.2 478.14,214.37 478.63,217.58 479.11,220.83 479.6,224.1 480.08,227.38 480.57,230.66 481.05,233.92 481.54,237.16 482.02,240.35 482.51,243.5 482.99,246.58 483.48,249.59 483.96,252.51 484.45,255.33 484.93,258.05 485.42,260.65 485.9,263.12 486.39,265.45 486.87,267.64 487.36,269.68 487.84,271.55 488.33,273.25 488.81,274.78 489.3,276.13 489.78,277.29 490.27,278.26 490.75,279.04 491.23,279.62 491.72,280 492.2,280.18 492.4,280.2 542.05,280.2" class="bl bz"/><polyline points="393.1,280.2 467.57,280.2 468.06,280.1 468.54,279.8 469.03,279.3 469.51,278.6 470,277.7 470.48,276.62 470.97,275.34 471.45,273.89 471.94,272.25 472.42,270.44 472.91,268.47 473.39,266.35 473.88,264.07 474.36,261.65 474.85,259.1 475.33,256.43 475.82,253.65 476.3,250.77 476.79,247.79 477.27,244.74 477.76,241.62 478.24,238.44 478.73,235.22 479.21,231.96 479.7,228.69 480.18,225.41 480.66,222.13 481.15,218.88 481.63,215.65 482.12,212.46 482.6,209.33 483.09,206.26 483.57,203.27 484.06,200.36 484.54,197.56 485.03,194.87 485.51,192.29 486,189.85 486.48,187.54 486.97,185.38 487.45,183.38 487.94,181.54 488.42,179.87 488.91,178.38 489.39,177.07 489.88,175.94 490.36,175.01 490.85,174.27 491.33,173.73 491.82,173.39 492.3,173.25 492.79,173.31 493.27,173.57 493.76,174.03 494.24,174.69 494.73,175.55 495.21,176.6 495.7,177.83 496.18,179.25 496.67,180.85 497.15,182.63 497.64,184.56 498.12,186.66 498.6,188.91 499.09,191.3 499.57,193.82 500.06,196.47 500.54,199.23 501.03,202.09 501.51,205.05 502,208.09 502.48,211.2 502.97,214.37 503.45,217.58 503.94,220.83 504.42,224.1 504.91,227.38 505.39,230.66 505.88,233.92 506.36,237.16 506.85,240.35 507.33,243.5 507.82,246.58 508.3,249.59 508.79,252.51 509.27,255.33 509.76,258.05 510.24,260.65 510.73,263.12 511.21,265.45 511.7,267.64 512.18,269.68 512.67,271.55 513.15,273.25 513.64,274.78 514.12,276.13 514.61,277.29 515.09,278.26 515.57,279.04 516.06,279.62 516.54,280 517.03,280.18 517.22,280.2 542.05,280.2" class="bl bz"/><polyline points="393.1,280.2 492.4,280.2 492.88,280.1 493.37,279.8 493.85,279.3 494.34,278.6 494.82,277.7 495.31,276.62 495.79,275.34 496.28,273.89 496.76,272.25 497.25,270.44 497.73,268.47 498.22,266.35 498.7,264.07 499.19,261.65 499.67,259.1 500.16,256.43 500.64,253.65 501.13,250.77 501.61,247.79 502.1,244.74 502.58,241.62 503.07,238.44 503.55,235.22 504.04,231.96 504.52,228.69 505,225.41 505.49,222.13 505.97,218.88 506.46,215.65 506.94,212.46 507.43,209.33 507.91,206.26 508.4,203.27 508.88,200.36 509.37,197.56 509.85,194.87 510.34,192.29 510.82,189.85 511.31,187.54 511.79,185.38 512.28,183.38 512.76,181.54 513.25,179.87 513.73,178.38 514.22,177.07 514.7,175.94 515.19,175.01 515.67,174.27 516.16,173.73 516.64,173.39 517.13,173.25 517.61,173.31 518.1,173.57 518.58,174.03 519.07,174.69 519.55,175.55 520.04,176.6 520.52,177.83 521.01,179.25 521.49,180.85 521.98,182.63 522.46,184.56 522.94,186.66 523.43,188.91 523.91,191.3 524.4,193.82 524.88,196.47 525.37,199.23 525.85,202.09 526.34,205.05 526.82,208.09 527.31,211.2 527.79,214.37 528.28,217.58 528.76,220.83 529.25,224.1 529.73,227.38 530.22,230.66 530.7,233.92 531.19,237.16 531.67,240.35 532.16,243.5 532.64,246.58 533.13,249.59 533.61,252.51 534.1,255.33 534.58,258.05 535.07,260.65 535.55,263.12 536.04,265.45 536.52,267.64 537.01,269.68 537.49,271.55 537.98,273.25 538.46,274.78 538.95,276.13 539.43,277.29 539.92,278.26 540.4,279.04 540.88,279.62 541.37,280 541.85,280.18 542.05,280.2" class="bl bz"/></g><g clip-path="url(#c5a)"><polyline points="393.1,280.2 393.58,280.1 394.07,279.8 394.55,279.3 395.04,278.6 395.52,277.7 396.01,276.62 396.49,275.34 396.98,273.89 397.46,272.25 397.95,270.44 398.43,268.47 398.92,266.35 399.4,264.07 399.89,261.65 400.37,259.1 400.86,256.43 401.34,253.65 401.83,250.77 402.31,247.79 402.8,244.74 403.28,241.62 403.77,238.44 404.25,235.22 404.74,231.96 405.22,228.69 405.7,225.41 406.19,222.13 406.67,218.88 407.16,215.65 407.64,212.46 408.13,209.33 408.61,206.26 409.1,203.27 409.58,200.36 410.07,197.56 410.55,194.87 411.04,192.29 411.52,189.85 412.01,187.54 412.49,185.38 412.98,183.38 413.46,181.54 413.95,179.87 414.43,178.38 414.92,177.07 415.4,175.94 415.89,175.01 416.37,174.27 416.86,173.73 417.34,173.39 417.83,173.25 418.31,173.31 418.8,173.57 419.28,174.03 419.77,174.69 420.25,175.55 420.74,176.6 421.22,177.83 421.71,179.25 422.19,180.85 422.68,182.63 423.16,184.56 423.64,186.66 424.13,188.91 424.61,191.3 425.1,193.82 425.58,196.47 426.07,199.23 426.55,202.09 427.04,205.05 427.52,208.09 428.01,211.2 428.49,214.37 428.98,217.58 429.46,220.83 429.95,224.1 430.43,227.38 430.92,230.66 431.4,233.92 431.89,237.16 432.37,240.35 432.86,243.5 433.34,246.58 433.83,249.59 434.31,252.51 434.8,255.33 435.28,258.05 435.77,260.65 436.25,263.12 436.74,265.45 437.22,267.64 437.71,269.68 438.19,271.55 438.68,273.25 439.16,274.78 439.65,276.13 440.13,277.29 440.62,278.26 441.1,279.04 441.58,279.62 442.07,280 442.55,280.18 442.75,280.2 542.05,280.2" class="bl"/><polyline points="393.1,280.2 417.92,280.2 418.41,280.1 418.89,279.8 419.38,279.3 419.86,278.6 420.35,277.7 420.83,276.62 421.32,275.34 421.8,273.89 422.29,272.25 422.77,270.44 423.26,268.47 423.74,266.35 424.23,264.07 424.71,261.65 425.2,259.1 425.68,256.43 426.17,253.65 426.65,250.77 427.14,247.79 427.62,244.74 428.11,241.62 428.59,238.44 429.08,235.22 429.56,231.96 430.05,228.69 430.53,225.41 431.01,222.13 431.5,218.88 431.98,215.65 432.47,212.46 432.95,209.33 433.44,206.26 433.92,203.27 434.41,200.36 434.89,197.56 435.38,194.87 435.86,192.29 436.35,189.85 436.83,187.54 437.32,185.38 437.8,183.38 438.29,181.54 438.77,179.87 439.26,178.38 439.74,177.07 440.23,175.94 440.71,175.01 441.2,174.27 441.68,173.73 442.17,173.39 442.65,173.25 443.14,173.31 443.62,173.57 444.11,174.03 444.59,174.69 445.08,175.55 445.56,176.6 446.05,177.83 446.53,179.25 447.02,180.85 447.5,182.63 447.99,184.56 448.47,186.66 448.95,188.91 449.44,191.3 449.92,193.82 450.41,196.47 450.89,199.23 451.38,202.09 451.86,205.05 452.35,208.09 452.83,211.2 453.32,214.37 453.8,217.58 454.29,220.83 454.77,224.1 455.26,227.38 455.74,230.66 456.23,233.92 456.71,237.16 457.2,240.35 457.68,243.5 458.17,246.58 458.65,249.59 459.14,252.51 459.62,255.33 460.11,258.05 460.59,260.65 461.08,263.12 461.56,265.45 462.05,267.64 462.53,269.68 463.02,271.55 463.5,273.25 463.99,274.78 464.47,276.13 464.96,277.29 465.44,278.26 465.92,279.04 466.41,279.62 466.89,280 467.38,280.18 467.57,280.2 542.05,280.2" class="bl"/><polyline points="393.1,280.2 442.75,280.2 443.23,280.1 443.72,279.8 444.2,279.3 444.69,278.6 445.17,277.7 445.66,276.62 446.14,275.34 446.63,273.89 447.11,272.25 447.6,270.44 448.08,268.47 448.57,266.35 449.05,264.07 449.54,261.65 450.02,259.1 450.51,256.43 450.99,253.65 451.48,250.77 451.96,247.79 452.45,244.74 452.93,241.62 453.42,238.44 453.9,235.22 454.39,231.96 454.87,228.69 455.35,225.41 455.84,222.13 456.32,218.88 456.81,215.65 457.29,212.46 457.78,209.33 458.26,206.26 458.75,203.27 459.23,200.36 459.72,197.56 460.2,194.87 460.69,192.29 461.17,189.85 461.66,187.54 462.14,185.38 462.63,183.38 463.11,181.54 463.6,179.87 464.08,178.38 464.57,177.07 465.05,175.94 465.54,175.01 466.02,174.27 466.51,173.73 466.99,173.39 467.48,173.25 467.96,173.31 468.45,173.57 468.93,174.03 469.42,174.69 469.9,175.55 470.39,176.6 470.87,177.83 471.36,179.25 471.84,180.85 472.33,182.63 472.81,184.56 473.29,186.66 473.78,188.91 474.26,191.3 474.75,193.82 475.23,196.47 475.72,199.23 476.2,202.09 476.69,205.05 477.17,208.09 477.66,211.2 478.14,214.37 478.63,217.58 479.11,220.83 479.6,224.1 480.08,227.38 480.57,230.66 481.05,233.92 481.54,237.16 482.02,240.35 482.51,243.5 482.99,246.58 483.48,249.59 483.96,252.51 484.45,255.33 484.93,258.05 485.42,260.65 485.9,263.12 486.39,265.45 486.87,267.64 487.36,269.68 487.84,271.55 488.33,273.25 488.81,274.78 489.3,276.13 489.78,277.29 490.27,278.26 490.75,279.04 491.23,279.62 491.72,280 492.2,280.18 492.4,280.2 542.05,280.2" class="bl"/><polyline points="393.1,280.2 467.57,280.2 468.06,280.1 468.54,279.8 469.03,279.3 469.51,278.6 470,277.7 470.48,276.62 470.97,275.34 471.45,273.89 471.94,272.25 472.42,270.44 472.91,268.47 473.39,266.35 473.88,264.07 474.36,261.65 474.85,259.1 475.33,256.43 475.82,253.65 476.3,250.77 476.79,247.79 477.27,244.74 477.76,241.62 478.24,238.44 478.73,235.22 479.21,231.96 479.7,228.69 480.18,225.41 480.66,222.13 481.15,218.88 481.63,215.65 482.12,212.46 482.6,209.33 483.09,206.26 483.57,203.27 484.06,200.36 484.54,197.56 485.03,194.87 485.51,192.29 486,189.85 486.48,187.54 486.97,185.38 487.45,183.38 487.94,181.54 488.42,179.87 488.91,178.38 489.39,177.07 489.88,175.94 490.36,175.01 490.85,174.27 491.33,173.73 491.82,173.39 492.3,173.25 492.79,173.31 493.27,173.57 493.76,174.03 494.24,174.69 494.73,175.55 495.21,176.6 495.7,177.83 496.18,179.25 496.67,180.85 497.15,182.63 497.64,184.56 498.12,186.66 498.6,188.91 499.09,191.3 499.57,193.82 500.06,196.47 500.54,199.23 501.03,202.09 501.51,205.05 502,208.09 502.48,211.2 502.97,214.37 503.45,217.58 503.94,220.83 504.42,224.1 504.91,227.38 505.39,230.66 505.88,233.92 506.36,237.16 506.85,240.35 507.33,243.5 507.82,246.58 508.3,249.59 508.79,252.51 509.27,255.33 509.76,258.05 510.24,260.65 510.73,263.12 511.21,265.45 511.7,267.64 512.18,269.68 512.67,271.55 513.15,273.25 513.64,274.78 514.12,276.13 514.61,277.29 515.09,278.26 515.57,279.04 516.06,279.62 516.54,280 517.03,280.18 517.22,280.2 542.05,280.2" class="bl"/><polyline points="393.1,280.2 492.4,280.2 492.88,280.1 493.37,279.8 493.85,279.3 494.34,278.6 494.82,277.7 495.31,276.62 495.79,275.34 496.28,273.89 496.76,272.25 497.25,270.44 497.73,268.47 498.22,266.35 498.7,264.07 499.19,261.65 499.67,259.1 500.16,256.43 500.64,253.65 501.13,250.77 501.61,247.79 502.1,244.74 502.58,241.62 503.07,238.44 503.55,235.22 504.04,231.96 504.52,228.69 505,225.41 505.49,222.13 505.97,218.88 506.46,215.65 506.94,212.46 507.43,209.33 507.91,206.26 508.4,203.27 508.88,200.36 509.37,197.56 509.85,194.87 510.34,192.29 510.82,189.85 511.31,187.54 511.79,185.38 512.28,183.38 512.76,181.54 513.25,179.87 513.73,178.38 514.22,177.07 514.7,175.94 515.19,175.01 515.67,174.27 516.16,173.73 516.64,173.39 517.13,173.25 517.61,173.31 518.1,173.57 518.58,174.03 519.07,174.69 519.55,175.55 520.04,176.6 520.52,177.83 521.01,179.25 521.49,180.85 521.98,182.63 522.46,184.56 522.94,186.66 523.43,188.91 523.91,191.3 524.4,193.82 524.88,196.47 525.37,199.23 525.85,202.09 526.34,205.05 526.82,208.09 527.31,211.2 527.79,214.37 528.28,217.58 528.76,220.83 529.25,224.1 529.73,227.38 530.22,230.66 530.7,233.92 531.19,237.16 531.67,240.35 532.16,243.5 532.64,246.58 533.13,249.59 533.61,252.51 534.1,255.33 534.58,258.05 535.07,260.65 535.55,263.12 536.04,265.45 536.52,267.64 537.01,269.68 537.49,271.55 537.98,273.25 538.46,274.78 538.95,276.13 539.43,277.29 539.92,278.26 540.4,279.04 540.88,279.62 541.37,280 541.85,280.18 542.05,280.2" class="bl"/></g><polyline points="393.1,280.2 393.58,280.1 394.07,279.8 394.55,279.3 395.04,278.6 395.52,277.7 396.01,276.62 396.49,275.34 396.98,273.89 397.46,272.25 397.95,270.44 398.43,268.47 398.92,266.35 399.4,264.07 399.89,261.65 400.37,259.1 400.86,256.43 401.34,253.65 401.83,250.77 402.31,247.79 402.8,244.74 403.28,241.62 403.77,238.44 404.25,235.22 404.74,231.96 405.22,228.69 405.7,225.41 406.19,222.13 406.67,218.88 407.16,215.65 407.64,212.46 408.13,209.33 408.61,206.26 409.1,203.27 409.58,200.36 410.07,197.56 410.55,194.87 411.04,192.29 411.52,189.85 412.01,187.54 412.49,185.38 412.98,183.38 413.46,181.54 413.95,179.87 414.43,178.38 414.92,177.07 415.4,175.94 415.89,175.01 416.37,174.27 416.86,173.73 417.34,173.39 417.83,173.25 418.31,173.25 418.8,173.25 419.28,173.25 419.77,173.25 420.25,173.25 420.74,173.25 421.22,173.25 421.71,173.25 422.19,173.25 422.68,173.25 423.16,173.25 423.64,173.25 424.13,173.25 424.61,173.25 425.1,173.25 425.58,173.25 426.07,173.25 426.55,173.25 427.04,173.25 427.52,173.25 428.01,173.25 428.49,173.25 428.98,173.25 429.46,173.25 429.95,173.25 430.43,173.25 430.92,173.25 431.4,173.25 431.89,173.25 432.37,173.25 432.86,173.25 433.34,173.25 433.83,173.25 434.31,173.25 434.8,173.25 435.28,173.25 435.77,173.25 436.25,173.25 436.74,173.25 437.22,173.25 437.71,173.25 438.19,173.25 438.68,173.25 439.16,173.25 439.65,173.25 440.13,173.25 440.62,173.25 441.1,173.25 441.58,173.25 442.07,173.25 442.55,173.25 443.04,173.25 443.52,173.25 444.01,173.25 444.49,173.25 444.98,173.25 445.46,173.25 445.95,173.25 446.43,173.25 446.92,173.25 447.4,173.25 447.89,173.25 448.37,173.25 448.86,173.25 449.34,173.25 449.83,173.25 450.31,173.25 450.8,173.25 451.28,173.25 451.77,173.25 452.25,173.25 452.74,173.25 453.22,173.25 453.71,173.25 454.19,173.25 454.68,173.25 455.16,173.25 455.65,173.25 456.13,173.25 456.62,173.25 457.1,173.25 457.59,173.25 458.07,173.25 458.56,173.25 459.04,173.25 459.52,173.25 460.01,173.25 460.49,173.25 460.98,173.25 461.46,173.25 461.95,173.25 462.43,173.25 462.92,173.25 463.4,173.25 463.89,173.25 464.37,173.25 464.86,173.25 465.34,173.25 465.83,173.25 466.31,173.25 466.8,173.25 467.28,173.25 467.77,173.25 468.25,173.25 468.74,173.25 469.22,173.25 469.71,173.25 470.19,173.25 470.68,173.25 471.16,173.25 471.65,173.25 472.13,173.25 472.62,173.25 473.1,173.25 473.59,173.25 474.07,173.25 474.56,173.25 475.04,173.25 475.53,173.25 476.01,173.25 476.49,173.25 476.98,173.25 477.46,173.25 477.95,173.25 478.43,173.25 478.92,173.25 479.4,173.25 479.89,173.25 480.37,173.25 480.86,173.25 481.34,173.25 481.83,173.25 482.31,173.25 482.8,173.25 483.28,173.25 483.77,173.25 484.25,173.25 484.74,173.25 485.22,173.25 485.71,173.25 486.19,173.25 486.68,173.25 487.16,173.25 487.65,173.25 488.13,173.25 488.62,173.25 489.1,173.25 489.59,173.25 490.07,173.25 490.56,173.25 491.04,173.25 491.53,173.25 492.01,173.25 492.5,173.25 492.98,173.25 493.47,173.25 493.95,173.25 494.43,173.25 494.92,173.25 495.4,173.25 495.89,173.25 496.37,173.25 496.86,173.25 497.34,173.25 497.83,173.25 498.31,173.25 498.8,173.25 499.28,173.25 499.77,173.25 500.25,173.25 500.74,173.25 501.22,173.25 501.71,173.25 502.19,173.25 502.68,173.25 503.16,173.25 503.65,173.25 504.13,173.25 504.62,173.25 505.1,173.25 505.59,173.25 506.07,173.25 506.56,173.25 507.04,173.25 507.53,173.25 508.01,173.25 508.5,173.25 508.98,173.25 509.47,173.25 509.95,173.25 510.44,173.25 510.92,173.25 511.41,173.25 511.89,173.25 512.37,173.25 512.86,173.25 513.34,173.25 513.83,173.25 514.31,173.25 514.8,173.25 515.28,173.25 515.77,173.25 516.25,173.25 516.74,173.25 517.22,173.25 517.71,173.35 518.19,173.65 518.68,174.15 519.16,174.85 519.65,175.74 520.13,176.83 520.62,178.1 521.1,179.56 521.59,181.19 522.07,183 522.56,184.97 523.04,187.1 523.53,189.38 524.01,191.79 524.5,194.34 524.98,197.01 525.47,199.79 525.95,202.68 526.44,205.65 526.92,208.71 527.41,211.83 527.89,215.01 528.38,218.23 528.86,221.48 529.35,224.75 529.83,228.04 530.31,231.31 530.8,234.57 531.28,237.8 531.77,240.99 532.25,244.12 532.74,247.19 533.22,250.18 533.71,253.08 534.19,255.89 534.68,258.58 535.16,261.15 535.65,263.6 536.13,265.9 536.62,268.06 537.1,270.06 537.59,271.9 538.07,273.57 538.56,275.07 539.04,276.38 539.53,277.5 540.01,278.43 540.5,279.17 540.98,279.71 541.47,280.06 541.95,280.2 542.05,280.2" class="rd" clip-path="url(#c5r)"/></g><text transform="translate(22,137.5) scale(0.92,1)" class="tl" text-anchor="middle">0</text><text transform="translate(71.15,137.5) scale(0.92,1)" class="tl" text-anchor="middle">50</text><text transform="translate(120.3,137.5) scale(0.92,1)" class="tl" text-anchor="middle">100</text><text transform="translate(169.45,137.5) scale(0.92,1)" class="tl" text-anchor="middle">150</text><text transform="translate(20.3,134.4) scale(0.92,1)" class="tl" text-anchor="end">0</text><text transform="translate(20.3,113.35) scale(0.92,1)" class="tl" text-anchor="end">0.2</text><text transform="translate(20.3,92.31) scale(0.92,1)" class="tl" text-anchor="end">0.4</text><text transform="translate(20.3,71.26) scale(0.92,1)" class="tl" text-anchor="end">0.6</text><text transform="translate(20.3,50.22) scale(0.92,1)" class="tl" text-anchor="end">0.8</text><text transform="translate(20.3,29.17) scale(0.92,1)" class="tl" text-anchor="end">1</text><text transform="translate(21.65,12.5) scale(0.917,1)" class="ti">OLA</text><text transform="translate(38.8,12.5) scale(0.837,1)" class="ti">for</text><text transform="translate(48.62,12.5) scale(0.880,1)" class="ti">Hanning</text><text transform="translate(77.31,12.5) scale(0.862,1)" class="ti">window</text><text transform="translate(103.37,12.5) scale(0.965,1)" class="ti">of</text><text transform="translate(112.23,12.5) scale(0.824,1)" class="ti">50</text><text transform="translate(122.5,12.5) scale(0.877,1)" class="ti">samples</text><text transform="translate(151.21,12.5) scale(0.897,1)" class="ti">width</text><text x="94.52" y="144.8" class="xl" text-anchor="middle">n</text><text transform="translate(10.15,74.32) rotate(-90)" class="yl" x="-11.65" textLength="23.3" lengthAdjust="spacingAndGlyphs">w(n-mL)</text><text transform="translate(208,138.9) scale(0.92,1)" class="tl" text-anchor="middle">0</text><text transform="translate(227.47,138.9) scale(0.92,1)" class="tl" text-anchor="middle">50</text><text transform="translate(246.95,138.9) scale(0.92,1)" class="tl" text-anchor="middle">100</text><text transform="translate(266.42,138.9) scale(0.92,1)" class="tl" text-anchor="middle">150</text><text transform="translate(285.89,138.9) scale(0.92,1)" class="tl" text-anchor="middle">200</text><text transform="translate(305.36,138.9) scale(0.92,1)" class="tl" text-anchor="middle">250</text><text transform="translate(324.84,138.9) scale(0.92,1)" class="tl" text-anchor="middle">300</text><text transform="translate(344.31,138.9) scale(0.92,1)" class="tl" text-anchor="middle">350</text><text transform="translate(206.3,134.7) scale(0.92,1)" class="tl" text-anchor="end">0</text><text transform="translate(206.3,113.34) scale(0.92,1)" class="tl" text-anchor="end">0.2</text><text transform="translate(206.3,91.97) scale(0.92,1)" class="tl" text-anchor="end">0.4</text><text transform="translate(206.3,70.61) scale(0.92,1)" class="tl" text-anchor="end">0.6</text><text transform="translate(206.3,49.25) scale(0.92,1)" class="tl" text-anchor="end">0.8</text><text transform="translate(206.3,27.88) scale(0.92,1)" class="tl" text-anchor="end">1</text><text transform="translate(205.14,10.5) scale(0.936,1)" class="ti">OLA</text><text transform="translate(222.39,10.5) scale(0.924,1)" class="ti">for</text><text transform="translate(234.03,10.5) scale(0.852,1)" class="ti">Hanning</text><text transform="translate(262.71,10.5) scale(0.873,1)" class="ti">window</text><text transform="translate(289.08,10.5) scale(0.949,1)" class="ti">of</text><text transform="translate(298.93,10.5) scale(0.925,1)" class="ti">128</text><text transform="translate(313,10.5) scale(0.880,1)" class="ti">samples</text><text transform="translate(342.41,10.5) scale(0.897,1)" class="ti">width</text><text x="282.47" y="145.5" class="xl" text-anchor="middle">n</text><text transform="translate(196.55,74.15) rotate(-90)" class="yl" x="-11.65" textLength="23.3" lengthAdjust="spacingAndGlyphs">w(n-mL)</text><text transform="translate(393.45,138.6) scale(0.92,1)" class="tl" text-anchor="middle">0</text><text transform="translate(409.91,138.6) scale(0.92,1)" class="tl" text-anchor="middle">50</text><text transform="translate(426.36,138.6) scale(0.92,1)" class="tl" text-anchor="middle">100</text><text transform="translate(442.82,138.6) scale(0.92,1)" class="tl" text-anchor="middle">150</text><text transform="translate(459.27,138.6) scale(0.92,1)" class="tl" text-anchor="middle">200</text><text transform="translate(475.73,138.6) scale(0.92,1)" class="tl" text-anchor="middle">250</text><text transform="translate(492.18,138.6) scale(0.92,1)" class="tl" text-anchor="middle">300</text><text transform="translate(508.64,138.6) scale(0.92,1)" class="tl" text-anchor="middle">350</text><text transform="translate(525.09,138.6) scale(0.92,1)" class="tl" text-anchor="middle">400</text><text transform="translate(541.55,138.6) scale(0.92,1)" class="tl" text-anchor="middle">450</text><text transform="translate(391.75,134.6) scale(0.92,1)" class="tl" text-anchor="end">0</text><text transform="translate(391.75,113.47) scale(0.92,1)" class="tl" text-anchor="end">0.2</text><text transform="translate(391.75,92.35) scale(0.92,1)" class="tl" text-anchor="end">0.4</text><text transform="translate(391.75,71.22) scale(0.92,1)" class="tl" text-anchor="end">0.6</text><text transform="translate(391.75,50.09) scale(0.92,1)" class="tl" text-anchor="end">0.8</text><text transform="translate(391.75,28.96) scale(0.92,1)" class="tl" text-anchor="end">1</text><text transform="translate(391.06,12.5) scale(0.892,1)" class="ti">OLA</text><text transform="translate(407.99,12.5) scale(0.945,1)" class="ti">for</text><text transform="translate(419.03,12.5) scale(0.852,1)" class="ti">Hanning</text><text transform="translate(447.81,12.5) scale(0.873,1)" class="ti">window</text><text transform="translate(474,12.5) scale(0.871,1)" class="ti">of</text><text transform="translate(483.08,12.5) scale(0.850,1)" class="ti">150</text><text transform="translate(497.2,12.5) scale(0.887,1)" class="ti">samples</text><text transform="translate(526.21,12.5) scale(0.897,1)" class="ti">width</text><text x="467" y="145" class="xl" text-anchor="middle">n</text><text transform="translate(382.6,74.3) rotate(-90)" class="yl" x="-11.65" textLength="23.3" lengthAdjust="spacingAndGlyphs">w(n-mL)</text><text transform="translate(23.55,285.9) scale(0.92,1)" class="tl" text-anchor="middle">0</text><text transform="translate(42.75,285.9) scale(0.92,1)" class="tl" text-anchor="middle">100</text><text transform="translate(61.95,285.9) scale(0.92,1)" class="tl" text-anchor="middle">200</text><text transform="translate(81.15,285.9) scale(0.92,1)" class="tl" text-anchor="middle">300</text><text transform="translate(100.35,285.9) scale(0.92,1)" class="tl" text-anchor="middle">400</text><text transform="translate(119.55,285.9) scale(0.92,1)" class="tl" text-anchor="middle">500</text><text transform="translate(138.75,285.9) scale(0.92,1)" class="tl" text-anchor="middle">600</text><text transform="translate(157.94,285.9) scale(0.92,1)" class="tl" text-anchor="middle">700</text><text transform="translate(21.85,281.9) scale(0.92,1)" class="tl" text-anchor="end">0</text><text transform="translate(21.85,260.69) scale(0.92,1)" class="tl" text-anchor="end">0.2</text><text transform="translate(21.85,239.48) scale(0.92,1)" class="tl" text-anchor="end">0.4</text><text transform="translate(21.85,218.27) scale(0.92,1)" class="tl" text-anchor="end">0.6</text><text transform="translate(21.85,197.06) scale(0.92,1)" class="tl" text-anchor="end">0.8</text><text transform="translate(21.85,175.85) scale(0.92,1)" class="tl" text-anchor="end">1</text><text transform="translate(21.85,159.7) scale(0.911,1)" class="ti">OLA</text><text transform="translate(39,159.7) scale(0.891,1)" class="ti">for</text><text transform="translate(49.12,159.7) scale(0.873,1)" class="ti">Hanning</text><text transform="translate(78.41,159.7) scale(0.850,1)" class="ti">window</text><text transform="translate(103.99,159.7) scale(0.918,1)" class="ti">of</text><text transform="translate(112.93,159.7) scale(0.910,1)" class="ti">256</text><text transform="translate(127.5,159.7) scale(0.867,1)" class="ti">samples</text><text transform="translate(156.51,159.7) scale(0.881,1)" class="ti">width</text><text x="96.38" y="292.3" class="xl" text-anchor="middle">n</text><text transform="translate(12.2,221.38) rotate(-90)" class="yl" x="-11.65" textLength="23.3" lengthAdjust="spacingAndGlyphs">w(n-mL)</text><text transform="translate(208,285.8) scale(0.92,1)" class="tl" text-anchor="middle">0</text><text transform="translate(232.59,285.8) scale(0.92,1)" class="tl" text-anchor="middle">200</text><text transform="translate(257.18,285.8) scale(0.92,1)" class="tl" text-anchor="middle">400</text><text transform="translate(281.77,285.8) scale(0.92,1)" class="tl" text-anchor="middle">600</text><text transform="translate(306.37,285.8) scale(0.92,1)" class="tl" text-anchor="middle">800</text><text transform="translate(330.96,285.8) scale(0.92,1)" class="tl" text-anchor="middle">1000</text><text transform="translate(355.55,285.8) scale(0.92,1)" class="tl" text-anchor="middle">1200</text><text transform="translate(206.3,282.6) scale(0.92,1)" class="tl" text-anchor="end">0</text><text transform="translate(206.3,261.51) scale(0.92,1)" class="tl" text-anchor="end">0.2</text><text transform="translate(206.3,240.42) scale(0.92,1)" class="tl" text-anchor="end">0.4</text><text transform="translate(206.3,219.33) scale(0.92,1)" class="tl" text-anchor="end">0.6</text><text transform="translate(206.3,198.24) scale(0.92,1)" class="tl" text-anchor="end">0.8</text><text transform="translate(206.3,177.15) scale(0.92,1)" class="tl" text-anchor="end">1</text><text transform="translate(205.15,160.1) scale(0.911,1)" class="ti">OLA</text><text transform="translate(222.2,160.1) scale(0.902,1)" class="ti">for</text><text transform="translate(233.12,160.1) scale(0.873,1)" class="ti">Hanning</text><text transform="translate(262.11,160.1) scale(0.873,1)" class="ti">window</text><text transform="translate(287.69,160.1) scale(0.918,1)" class="ti">of</text><text transform="translate(297.14,160.1) scale(0.845,1)" class="ti">400</text><text transform="translate(311.31,160.1) scale(0.850,1)" class="ti">samples</text><text transform="translate(340.41,160.1) scale(0.864,1)" class="ti">width</text><text x="280.97" y="293" class="xl" text-anchor="middle">n</text><text transform="translate(196.6,222.4) rotate(-90)" class="yl" x="-11.65" textLength="23.3" lengthAdjust="spacingAndGlyphs">w(n-mL)</text><text transform="translate(393.05,285.7) scale(0.92,1)" class="tl" text-anchor="middle">0</text><text transform="translate(441.54,285.7) scale(0.92,1)" class="tl" text-anchor="middle">500</text><text transform="translate(490.02,285.7) scale(0.92,1)" class="tl" text-anchor="middle">1000</text><text transform="translate(538.51,285.7) scale(0.92,1)" class="tl" text-anchor="middle">1500</text><text transform="translate(391.35,282.4) scale(0.92,1)" class="tl" text-anchor="end">0</text><text transform="translate(391.35,261.01) scale(0.92,1)" class="tl" text-anchor="end">0.2</text><text transform="translate(391.35,239.62) scale(0.92,1)" class="tl" text-anchor="end">0.4</text><text transform="translate(391.35,218.23) scale(0.92,1)" class="tl" text-anchor="end">0.6</text><text transform="translate(391.35,196.84) scale(0.92,1)" class="tl" text-anchor="end">0.8</text><text transform="translate(391.35,175.45) scale(0.92,1)" class="tl" text-anchor="end">1</text><text transform="translate(391.94,159.5) scale(0.930,1)" class="ti">OLA</text><text transform="translate(409.39,159.5) scale(0.934,1)" class="ti">for</text><text transform="translate(419.72,159.5) scale(0.876,1)" class="ti">Hanning</text><text transform="translate(448.71,159.5) scale(0.862,1)" class="ti">window</text><text transform="translate(475.1,159.5) scale(0.871,1)" class="ti">of</text><text transform="translate(483.81,159.5) scale(0.884,1)" class="ti">512</text><text transform="translate(498.3,159.5) scale(0.897,1)" class="ti">samples</text><text transform="translate(527.81,159.5) scale(0.886,1)" class="ti">width</text><text x="467.02" y="292.8" class="xl" text-anchor="middle">n</text><text transform="translate(381.8,221.38) rotate(-90)" class="yl" x="-11.65" textLength="23.3" lengthAdjust="spacingAndGlyphs">w(n-mL)</text></g>
</svg></body></html>
